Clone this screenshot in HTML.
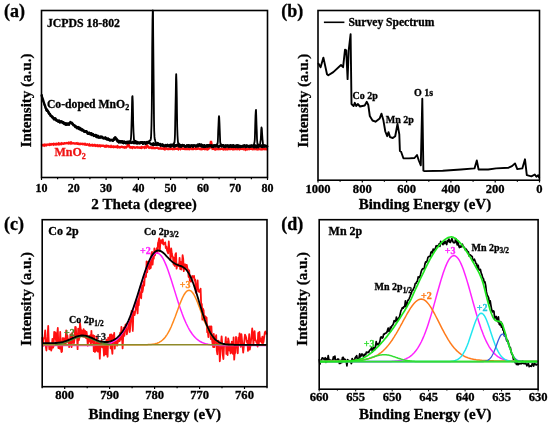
<!DOCTYPE html>
<html><head><meta charset="utf-8"><style>
html,body{margin:0;padding:0;background:#fff;width:550px;height:427px;overflow:hidden}
svg{display:block;filter:blur(0.35px)}
text{font-family:"Liberation Serif", serif;font-weight:bold;stroke-width:0.3px}
</style></head><body>
<svg width="550" height="427" viewBox="0 0 550 427">
<rect width="550" height="427" fill="#fff"/>
<path d="M41.5 145.7 L42 145.1 L42.5 145 L43 145.4 L43.5 144.9 L44 144.7 L44.5 145.4 L45 144.9 L45.5 145.2 L46 144.8 L46.5 145.2 L47 144.8 L47.5 144.5 L48 144.4 L48.5 144.7 L49 144.8 L49.5 144.9 L50 144.2 L50.5 144.6 L51 144.4 L51.5 144.5 L52 144.1 L52.5 144.2 L53 144.3 L53.5 144.6 L54 143.9 L54.5 144.2 L55 144.4 L55.5 144.5 L56 143.8 L56.5 143.7 L57 144.4 L57.5 144.3 L58 143.9 L58.5 143.5 L59 144.2 L59.5 143.7 L60 144.1 L60.5 143.8 L61 144 L61.5 143.4 L62 143.8 L62.5 143.4 L63 143.5 L63.5 143.8 L64 143.7 L64.5 143.2 L65 143.2 L65.5 143.3 L66 143.3 L66.5 143.2 L67 142.9 L67.5 143 L68 143.3 L68.5 143.4 L69 142.7 L69.5 143.1 L70 143.2 L70.5 142.7 L71 143.4 L71.5 142.8 L72 143.3 L72.5 143.3 L73 143.4 L73.5 143.2 L74 143.3 L74.5 143.5 L75 143.4 L75.5 143.6 L76 143.5 L76.5 143.6 L77 143.3 L77.5 143.8 L78 143.7 L78.5 143.6 L79 144.1 L79.5 144.1 L80 143.9 L80.5 143.7 L81 144 L81.5 143.8 L82 143.8 L82.5 144.1 L83 143.9 L83.5 144.2 L84 144.3 L84.5 144 L85 144.5 L85.5 144.1 L86 144.7 L86.5 144.8 L87 144.6 L87.5 144.3 L88 144.7 L88.5 144.7 L89 145.2 L89.5 144.6 L90 145.2 L90.5 145.4 L91 145.2 L91.5 145.3 L92 144.9 L92.5 145.5 L93 145.2 L93.5 145.6 L94 145.6 L94.5 145.1 L95 145.6 L95.5 145.8 L96 145.2 L96.5 145.4 L97 145.8 L97.5 145.4 L98 146 L98.5 145.6 L99 146 L99.5 145.5 L100 145.8 L100.5 146.2 L101 145.6 L101.5 145.7 L102 145.9 L102.5 145.8 L103 145.6 L103.5 145.8 L104 145.8 L104.5 146.4 L105 146.3 L105.5 146.5 L106 145.9 L106.5 146.4 L107 145.9 L107.5 146.3 L108 146.4 L108.5 146.2 L109 146.7 L109.5 146.4 L110 146.5 L110.5 146.8 L111 146.2 L111.5 146.9 L112 146.7 L112.5 146.5 L113 146.9 L113.5 146.5 L114 147.1 L114.5 146.8 L115 146.6 L115.5 147 L116 146.8 L116.5 146.6 L117 147.1 L117.5 146.5 L118 147.2 L118.5 146.8 L119 147.1 L119.5 147.4 L120 147.1 L120.5 147.2 L121 147 L121.5 146.7 L122 146.8 L122.5 146.9 L123 147.3 L123.5 147.2 L124 147.3 L124.5 147.6 L125 147.1 L125.5 147.2 L126 147.5 L126.5 147 L127 146.7 L127.5 145.9 L128 144.1 L128.5 144.1 L129 145.5 L129.5 147.1 L130 147.5 L130.5 147.3 L131 147.6 L131.5 147.5 L132 147.2 L132.5 147.8 L133 147.3 L133.5 147.2 L134 147.2 L134.5 147.6 L135 147.8 L135.5 147.7 L136 147.4 L136.5 147.3 L137 147.1 L137.5 147.6 L138 147.5 L138.5 147.4 L139 147.6 L139.5 147.5 L140 147.8 L140.5 147.7 L141 147.3 L141.5 147.8 L142 147.1 L142.5 147.5 L143 147.4 L143.5 147.3 L144 147.1 L144.5 147.7 L145 147.1 L145.5 147.5 L146 147.6 L146.5 146.2 L147 145.4 L147.5 145.8 L148 146.7 L148.5 147.5 L149 147.8 L149.5 147.4 L150 147.5 L150.5 147.6 L151 147.4 L151.5 148.1 L152 148 L152.5 148 L153 147.5 L153.5 148.2 L154 148.2 L154.5 148 L155 148.2 L155.5 148 L156 147.9 L156.5 147.8 L157 147.9 L157.5 147.8 L158 148.1 L158.5 148.5 L159 148.5 L159.5 148.6 L160 148.5 L160.5 148.2 L161 148.5 L161.5 148.4 L162 148.7 L162.5 148.6 L163 148.4 L163.5 148.7 L164 149 L164.5 148.4 L165 149 L165.5 148.3 L166 148.5 L166.5 148.5 L167 148.9 L167.5 149.1 L168 148.9 L168.5 148.6 L169 149 L169.5 148.6 L170 148.5 L170.5 149 L171 148.8 L171.5 148.9 L172 148.9 L172.5 149.1 L173 148.7 L173.5 149 L174 148.9 L174.5 149 L175 148.7 L175.5 148.9 L176 148.8 L176.5 148.6 L177 148.5 L177.5 148.8 L178 148.4 L178.5 149.1 L179 148.5 L179.5 148.4 L180 148.4 L180.5 149.1 L181 148.6 L181.5 148.5 L182 148.4 L182.5 148.4 L183 148.9 L183.5 148.9 L184 148.9 L184.5 149 L185 148.4 L185.5 148.9 L186 148.7 L186.5 149 L187 149 L187.5 149.1 L188 148.4 L188.5 149.1 L189 149.1 L189.5 149.2 L190 148.5 L190.5 148.6 L191 148.5 L191.5 148.4 L192 149.1 L192.5 149.1 L193 148.9 L193.5 149.1 L194 148.9 L194.5 148.6 L195 148.5 L195.5 148.5 L196 149 L196.5 148.6 L197 148.7 L197.5 148.8 L198 148.4 L198.5 148.6 L199 148.7 L199.5 149 L200 148.7 L200.5 148.7 L201 149.2 L201.5 148.8 L202 149.1 L202.5 148.9 L203 148.5 L203.5 148.8 L204 148.8 L204.5 149.1 L205 148.7 L205.5 149 L206 148.9 L206.5 148.6 L207 149.2 L207.5 148.5 L208 149.1 L208.5 148.6 L209 148.4 L209.5 148.3 L210 147.2 L210.5 144 L211 141 L211.5 143.6 L212 147 L212.5 148.8 L213 148.6 L213.5 148.9 L214 148.8 L214.5 149.2 L215 148.7 L215.5 149.3 L216 148.7 L216.5 148.7 L217 149.1 L217.5 148.9 L218 148.6 L218.5 149 L219 148.6 L219.5 149.1 L220 149.1 L220.5 149.1 L221 149 L221.5 148.8 L222 148.8 L222.5 148.8 L223 149.2 L223.5 148.6 L224 149.2 L224.5 148.6 L225 148.7 L225.5 148.7 L226 149.3 L226.5 148.9 L227 148.8 L227.5 149.2 L228 148.7 L228.5 148.9 L229 149 L229.5 149.2 L230 149.2 L230.5 149.1 L231 148.8 L231.5 148.8 L232 148.7 L232.5 149.2 L233 149.1 L233.5 149.2 L234 148.7 L234.5 148.9 L235 149.2 L235.5 149 L236 148.7 L236.5 148.9 L237 149.3 L237.5 148.8 L238 148.7 L238.5 148.8 L239 149.1 L239.5 149.3 L240 148.7 L240.5 148.7 L241 148.8 L241.5 148.9 L242 149 L242.5 148.7 L243 148.9 L243.5 148.8 L244 149.4 L244.5 149.2 L245 148.7 L245.5 149.4 L246 148.7 L246.5 148.9 L247 149.4 L247.5 149.3 L248 149.2 L248.5 149 L249 148.8 L249.5 149.1 L250 148.7 L250.5 148.8 L251 148.9 L251.5 148.7 L252 149 L252.5 149.3 L253 149.2 L253.5 149 L254 149.2 L254.5 149 L255 148.8 L255.5 149.1 L256 149 L256.5 149.2 L257 149.4 L257.5 149 L258 149.1 L258.5 149.3 L259 149 L259.5 148.8 L260 149.2 L260.5 149.4 L261 149.3 L261.5 149.2 L262 149.4 L262.5 149.2 L263 149.2 L263.5 149 L264 148.9 L264.5 149.2 L265 148.8 L265.5 149 L266 149.3 L266.5 149.3 L267 149.2 L267.5 148.9" fill="none" stroke="#ff1010" stroke-width="2.3"/>
<path d="M41.5 94.6 L42 97 L42.5 98.6 L43 99.5 L43.5 101.3 L44 102.9 L44.5 104.8 L45 105.4 L45.5 107.6 L46 108.7 L46.5 110.4 L47 110.9 L47.5 110.3 L48 111.4 L48.5 111.9 L49 113.6 L49.5 114.2 L50 114 L50.5 115.8 L51 115.5 L51.5 116.2 L52 117.3 L52.5 116.7 L53 117.7 L53.5 118.5 L54 119.4 L54.5 118.7 L55 118.4 L55.5 118.5 L56 120.2 L56.5 120.7 L57 120.6 L57.5 120.7 L58 121.5 L58.5 121 L59 120.5 L59.5 121.9 L60 122.4 L60.5 121.7 L61 121.2 L61.5 121.6 L62 121.6 L62.5 121.9 L63 122.6 L63.5 122.2 L64 123.3 L64.5 124 L65 123.1 L65.5 123.5 L66 124.9 L66.5 123.5 L67 123.7 L67.5 124.6 L68 123.4 L68.5 124 L69 124.7 L69.5 123.3 L70 123 L70.5 123.1 L71 123.1 L71.5 122.6 L72 122.8 L72.5 123.5 L73 124.5 L73.5 125.3 L74 125 L74.5 125.5 L75 125.6 L75.5 127 L76 126.5 L76.5 127 L77 128.1 L77.5 127.6 L78 127 L78.5 127.8 L79 129 L79.5 127.6 L80 128.9 L80.5 129.2 L81 129.4 L81.5 130.3 L82 129.4 L82.5 129.4 L83 130.4 L83.5 130.3 L84 131.5 L84.5 131.8 L85 132 L85.5 131.1 L86 131.6 L86.5 131.2 L87 131.9 L87.5 133.5 L88 133.7 L88.5 133.9 L89 132.6 L89.5 132.8 L90 133.8 L90.5 134.4 L91 134.2 L91.5 133.3 L92 135.1 L92.5 135 L93 134.1 L93.5 134.6 L94 136 L94.5 135.1 L95 135.9 L95.5 134.9 L96 136.7 L96.5 135.3 L97 137.2 L97.5 136.1 L98 135.9 L98.5 137.6 L99 136.9 L99.5 136.8 L100 137.7 L100.5 136.6 L101 136.7 L101.5 136.8 L102 136.7 L102.5 137.3 L103 137.9 L103.5 137.8 L104 138.1 L104.5 138.3 L105 138.3 L105.5 137.5 L106 138 L106.5 139.3 L107 138.6 L107.5 139.3 L108 138.5 L108.5 138.9 L109 140 L109.5 139.7 L110 140.5 L110.5 140 L111 139.9 L111.5 139.8 L112 139.9 L112.5 140.4 L113 140.7 L113.5 139.6 L114 139.8 L114.5 137.9 L115 137.5 L115.5 137.5 L116 139.2 L116.5 138.6 L117 140.3 L117.5 141.4 L118 140.5 L118.5 141.1 L119 142.5 L119.5 141 L120 141.9 L120.5 141.3 L121 142.5 L121.5 142.3 L122 141.3 L122.5 142.6 L123 141.6 L123.5 143.1 L124 141.8 L124.5 141.7 L125 142.2 L125.5 142.5 L126 143.3 L126.5 142 L127 142.9 L127.5 142 L128 143.2 L128.5 142 L129 143.1 L129.5 142.1 L130 142 L130.5 142.8 L131 143 L131.5 142.4 L132 142.9 L132.5 142 L133 141.9 L133.5 142.4 L134 143.3 L134.5 142.7 L135 142.4 L135.5 142.2 L136 143.2 L136.5 142.1 L137 143.6 L137.5 143.4 L138 142.8 L138.5 142.6 L139 143.2 L139.5 142.6 L140 143.3 L140.5 142.7 L141 142.1 L141.5 142.1 L142 142.5 L142.5 142.2 L143 143.8 L143.5 142.6 L144 142.7 L144.5 142.4 L145 142.7 L145.5 144.1 L146 142.7 L146.5 142.9 L147 142.3 L147.5 143.3 L148 142.9 L148.5 142.5 L149 142.8 L149.5 142.7 L150 143.3 L150.5 143.9 L151 144.3 L151.5 144.3 L152 143.7 L152.5 145 L153 144.5 L153.5 143.2 L154 145 L154.5 144.7 L155 143.6 L155.5 144.4 L156 145 L156.5 144.7 L157 144.9 L157.5 144.1 L158 144 L158.5 144 L159 145 L159.5 145.2 L160 145 L160.5 145.7 L161 145.2 L161.5 145.6 L162 145.8 L162.5 144.6 L163 145.9 L163.5 146 L164 145.6 L164.5 145.7 L165 146.3 L165.5 146.1 L166 145.1 L166.5 146.3 L167 145.9 L167.5 144.9 L168 146.2 L168.5 146.2 L169 145.9 L169.5 145.8 L170 146.6 L170.5 146.8 L171 144.9 L171.5 146.5 L172 145.7 L172.5 145.3 L173 145.3 L173.5 145.1 L174 146.8 L174.5 146.5 L175 146.6 L175.5 145.3 L176 145.8 L176.5 144.9 L177 145.8 L177.5 145.2 L178 145.5 L178.5 144.9 L179 146.6 L179.5 146.7 L180 146.7 L180.5 145.6 L181 146.9 L181.5 145.6 L182 145.4 L182.5 145.1 L183 145.5 L183.5 145.4 L184 145.9 L184.5 145.7 L185 146.7 L185.5 146.2 L186 146.8 L186.5 146.4 L187 146.4 L187.5 146.4 L188 145.5 L188.5 146.8 L189 145.9 L189.5 145.5 L190 146.9 L190.5 146.3 L191 146.1 L191.5 145.3 L192 145.4 L192.5 146 L193 146.8 L193.5 145.9 L194 145.4 L194.5 145.7 L195 145.5 L195.5 146.1 L196 146.5 L196.5 145.7 L197 145.6 L197.5 144.8 L198 146.4 L198.5 145.2 L199 145.6 L199.5 144.3 L200 144.7 L200.5 146 L201 146.1 L201.5 144.7 L202 146.6 L202.5 146.1 L203 145.8 L203.5 146.7 L204 147 L204.5 145.2 L205 146.1 L205.5 146.9 L206 146.3 L206.5 146 L207 145.1 L207.5 145.5 L208 146.3 L208.5 145.3 L209 146.3 L209.5 145.3 L210 146.1 L210.5 145.8 L211 146.3 L211.5 145.7 L212 147 L212.5 146.8 L213 145.5 L213.5 147 L214 145.7 L214.5 146.1 L215 145.9 L215.5 146.4 L216 145.6 L216.5 145.8 L217 146.5 L217.5 146.7 L218 146.1 L218.5 147.1 L219 146.8 L219.5 145.6 L220 145.7 L220.5 146.1 L221 145.6 L221.5 146.5 L222 145.4 L222.5 145.6 L223 145.4 L223.5 145.3 L224 146.9 L224.5 146.6 L225 147 L225.5 145.5 L226 146.6 L226.5 146.5 L227 145.9 L227.5 145.5 L228 145.7 L228.5 147.1 L229 147.1 L229.5 145.9 L230 146.8 L230.5 145.3 L231 145.9 L231.5 145.6 L232 147 L232.5 146 L233 146.7 L233.5 145.3 L234 147 L234.5 146.7 L235 145.9 L235.5 147.1 L236 145.7 L236.5 145.8 L237 145.2 L237.5 147.1 L238 147.1 L238.5 145.7 L239 147.1 L239.5 146 L240 146.1 L240.5 147.1 L241 146.8 L241.5 146.9 L242 146.5 L242.5 145.9 L243 146.8 L243.5 145.7 L244 145.8 L244.5 145.3 L245 145.9 L245.5 147 L246 145.8 L246.5 145.5 L247 146.7 L247.5 145.7 L248 146.5 L248.5 146.8 L249 146.6 L249.5 147 L250 146.4 L250.5 146.8 L251 145.8 L251.5 145.6 L252 146.5 L252.5 146.1 L253 146.3 L253.5 146.9 L254 147.3 L254.5 146.3 L255 147 L255.5 145.4 L256 145.6 L256.5 147.3 L257 147.2 L257.5 147.1 L258 145.9 L258.5 147.2 L259 146.5 L259.5 145.8 L260 145.6 L260.5 145.9 L261 146.7 L261.5 145.4 L262 146.7 L262.5 146 L263 147 L263.5 145.5 L264 146.2 L264.5 146.7 L265 145.7 L265.5 146.2 L266 146 L266.5 146 L267 146.1 L267.5 147.1" fill="none" stroke="#000" stroke-width="2.3" stroke-linejoin="round"/>
<path d="M41.5 94.6 L41.8 95.1 L42 97 L42.2 96.7 L42.5 98.6 L42.8 99.2 L43 99.5 L43.2 101.3 L43.5 101.3 L43.8 103 L44 102.9 L44.2 103.5 L44.5 104.8 L44.8 106.2 L45 105.4 L45.2 106.2 L45.5 107.6 L45.8 108.8 L46 108.7 L46.2 108.9 L46.5 110.4 L46.8 108.9 L47 110.9 L47.2 110.2 L47.5 110.3 L47.8 110.6 L48 111.4 L48.2 112.8 L48.5 111.9 L48.8 113.1 L49 113.6 L49.2 113.4 L49.5 114.2 L49.8 113.6 L50 114 L50.2 114.6 L50.5 115.8 L50.8 115.5 L51 115.5 L51.2 116.3 L51.5 116.2 L51.8 116.1 L52 117.3 L52.2 117.4 L52.5 116.7 L52.8 117.5 L53 117.7 L53.2 118.6 L53.5 118.5 L53.8 117.8 L54 119.4 L54.2 117.9 L54.5 118.7 L54.8 119.5 L55 118.4 L55.2 119.2 L55.5 118.5 L55.8 119.9 L56 120.2 L56.2 120 L56.5 120.7 L56.8 119.7 L57 120.6 L57.2 120.6 L57.5 120.7 L57.8 120.6 L58 121.5 L58.2 121.8 L58.5 121 L58.8 121.5 L59 120.5 L59.2 121.9 L59.5 121.9 L59.8 122.6 L60 122.4 L60.2 121.4 L60.5 121.7 L60.8 122.4 L61 121.2 L61.2 122.1 L61.5 121.6 L61.8 121.6 L62 121.6 L62.2 123.1 L62.5 121.9 L62.8 122.3 L63 122.6 L63.2 123.7 L63.5 122.2 L63.8 123 L64 123.3 L64.2 124.1 L64.5 124 L64.8 124.2 L65 123.1 L65.2 123.5 L65.5 123.5 L65.8 124.6 L66 124.9 L66.2 123.3 L66.5 123.5 L66.8 123.7 L67 123.7 L67.2 124.3 L67.5 124.6 L67.8 123.9 L68 123.4 L68.2 124.2 L68.5 123.9 L68.8 124.2 L69 124.7 L69.2 123.9 L69.5 123.2 L69.8 123.2 L70 123 L70.2 121.6 L70.5 123.1 L70.8 122.9 L71 123.1 L71.2 123.2 L71.5 122.6 L71.8 123 L72 122.8 L72.2 124.3 L72.5 123.5 L72.8 123.9 L73 124.5 L73.2 124.6 L73.5 125.3 L73.8 124.9 L74 125 L74.2 125.5 L74.5 125.5 L74.8 126.2 L75 125.6 L75.2 127.4 L75.5 127 L75.8 126.2 L76 126.5 L76.2 126.8 L76.5 126.9 L76.8 126.6 L77 128.1 L77.2 128.5 L77.5 127.6 L77.8 127.7 L78 127 L78.2 127.2 L78.5 127.8 L78.8 127.7 L79 128.9 L79.2 127.7 L79.5 127.6 L79.8 129.6 L80 128.9 L80.2 128.2 L80.5 129.1 L80.8 128.2 L81 129.4 L81.2 130.4 L81.5 130.3 L81.8 130.1 L82 129.3 L82.2 129.7 L82.5 129.4 L82.8 130.8 L83 130.4 L83.2 131 L83.5 130.3 L83.8 130.2 L84 131.5 L84.2 131.9 L84.5 131.8 L84.8 131.8 L85 132 L85.2 132 L85.5 131.1 L85.8 131.8 L86 131.6 L86.2 131.1 L86.5 131.2 L86.8 131.8 L87 131.9 L87.2 132.9 L87.5 133.5 L87.8 132.6 L88 133.7 L88.2 133.9 L88.5 133.9 L88.8 132.8 L89 132.6 L89.2 132.7 L89.5 132.8 L89.8 132.9 L90 133.8 L90.2 134.4 L90.5 134.4 L90.8 133.8 L91 134.2 L91.2 134.6 L91.5 133.3 L91.8 134.5 L92 135.1 L92.2 135 L92.5 135 L92.8 134.5 L93 134 L93.2 135.4 L93.5 134.5 L93.8 135.6 L94 136 L94.2 135 L94.5 135.1 L94.8 136.2 L95 135.9 L95.2 134.9 L95.5 134.9 L95.8 135 L96 136.6 L96.2 136.5 L96.5 135.3 L96.8 136.8 L97 137.2 L97.2 136.6 L97.5 136.1 L97.8 136.6 L98 135.8 L98.2 135.7 L98.5 137.6 L98.8 137 L99 136.8 L99.2 137.7 L99.5 136.8 L99.8 137.7 L100 137.6 L100.2 136.5 L100.5 136.6 L100.8 136.7 L101 136.7 L101.2 137.4 L101.5 136.8 L101.8 137.2 L102 136.7 L102.2 138.4 L102.5 137.3 L102.8 137.6 L103 137.9 L103.2 138.6 L103.5 137.8 L103.8 138.8 L104 138.1 L104.2 138.2 L104.5 138.3 L104.8 137.3 L105 138.2 L105.2 137.8 L105.5 137.5 L105.8 139.2 L106 138 L106.2 138.7 L106.5 139.3 L106.8 139 L107 138.6 L107.2 139.1 L107.5 139.2 L107.8 139.8 L108 138.4 L108.2 139.4 L108.5 138.8 L108.8 138.9 L109 140 L109.2 139.5 L109.5 139.7 L109.8 140.1 L110 140.5 L110.2 139.6 L110.5 140 L110.8 139.8 L111 139.9 L111.2 140.3 L111.5 139.8 L111.8 140 L112 139.9 L112.2 140.8 L112.5 140.3 L112.8 140.6 L113 140.7 L113.2 139.2 L113.5 139.6 L113.8 140.2 L114 139.7 L114.2 138.1 L114.5 137.8 L114.8 138.3 L115 137.4 L115.2 137.7 L115.5 137.4 L115.8 138.7 L116 139.2 L116.2 139.7 L116.5 138.5 L116.8 140 L117 140.2 L117.2 139.5 L117.5 141.3 L117.8 141.7 L118 140.4 L118.2 142 L118.5 141.1 L118.8 141.4 L119 142.5 L119.2 142.2 L119.5 140.9 L119.8 141.5 L120 141.8 L120.2 141.5 L120.5 141.2 L120.8 141.5 L121 142.4 L121.2 141.1 L121.5 142.2 L121.8 142 L122 141.2 L122.2 141.9 L122.5 142.5 L122.8 142.4 L123 141.5 L123.2 143.4 L123.5 143 L123.8 143.4 L124 141.6 L124.2 142 L124.5 141.5 L124.8 143 L125 142 L125.2 141.7 L125.5 142.3 L125.8 143.3 L126 143.1 L126.2 142 L126.5 141.8 L126.8 143.3 L127 142.6 L127.2 142.8 L127.5 141.6 L127.8 141.5 L128 142.8 L128.2 142.2 L128.5 141.5 L128.8 143.1 L129 142.5 L129.2 142.7 L129.5 141.2 L129.8 142.6 L130 140.8 L130.2 142.2 L130.5 140.9 L130.8 139.6 L131 137.8 L131.2 134.2 L131.5 125.5 L131.8 115 L132 105 L132.2 97.1 L132.5 96.1 L132.8 102.4 L133 112.5 L133.2 123.4 L133.5 131.7 L133.8 136.6 L134 140 L134.2 140.2 L134.5 141.2 L134.8 140.8 L135 141.3 L135.2 140.8 L135.5 141.4 L135.8 141 L136 142.5 L136.2 142.2 L136.5 141.6 L136.8 142.2 L137 143.2 L137.2 141.6 L137.5 143 L137.8 142.3 L138 142.4 L138.2 143.1 L138.5 142.3 L138.8 142.5 L139 142.9 L139.2 143.5 L139.5 142.3 L139.8 143.3 L140 143 L140.2 142.9 L140.5 142.5 L140.8 142.4 L141 141.8 L141.2 141.9 L141.5 141.8 L141.8 143.2 L142 142.2 L142.2 142 L142.5 141.9 L142.8 143.4 L143 143.5 L143.2 143.1 L143.5 142.3 L143.8 142.2 L144 142.3 L144.2 142.6 L144.5 142 L144.8 142.6 L145 142.2 L145.2 143.6 L145.5 143.6 L145.8 142.8 L146 142.1 L146.2 143.6 L146.5 142.2 L146.8 142.3 L147 141.6 L147.2 142.3 L147.5 142.5 L147.8 142.5 L148 141.8 L148.2 142.4 L148.5 141.3 L148.8 141.7 L149 141.2 L149.2 141.6 L149.5 140.7 L149.8 140.4 L150 140.7 L150.2 140.1 L150.5 140.2 L150.8 139.2 L151 137.7 L151.2 133.4 L151.5 124.8 L151.8 108.5 L152 81.4 L152.2 48.8 L152.5 20.4 L152.8 10.5 L153 11.6 L153.2 36.6 L153.5 68.3 L153.8 99.3 L154 119.9 L154.2 131 L154.5 136.9 L154.8 139.6 L155 139.5 L155.2 141.1 L155.5 141.6 L155.8 142.6 L156 142.9 L156.2 143.3 L156.5 143 L156.8 143.8 L157 143.6 L157.2 143.8 L157.5 143 L157.8 142.7 L158 143.1 L158.2 143.6 L158.5 143.2 L158.8 144.8 L159 144.3 L159.2 144.5 L159.5 144.6 L159.8 144.8 L160 144.5 L160.2 143.6 L160.5 145.2 L160.8 145.2 L161 144.8 L161.2 144.9 L161.5 145.2 L161.8 144.1 L162 145.4 L162.2 144.5 L162.5 144.2 L162.8 144.7 L163 145.6 L163.2 144.6 L163.5 145.7 L163.8 146.3 L164 145.3 L164.2 145.2 L164.5 145.4 L164.8 145.9 L165 146.1 L165.2 145.8 L165.5 145.8 L165.8 144.7 L166 144.8 L166.2 145.1 L166.5 146 L166.8 145.2 L167 145.7 L167.2 144.6 L167.5 144.7 L167.8 145.1 L168 145.9 L168.2 145.9 L168.5 145.9 L168.8 145.1 L169 145.5 L169.2 145.4 L169.5 145.4 L169.8 144.7 L170 146.2 L170.2 144.8 L170.5 146.3 L170.8 146.2 L171 144.4 L171.2 145.2 L171.5 145.9 L171.8 146.1 L172 145 L172.2 144.6 L172.5 144.4 L172.8 145.7 L173 144.1 L173.2 144.7 L173.5 143.7 L173.8 144.2 L174 144.7 L174.2 142.4 L174.5 142.5 L174.8 139 L175 133.9 L175.2 123.1 L175.5 107.3 L175.8 92 L176 78.4 L176.2 74.1 L176.5 81.7 L176.8 97.7 L177 114.1 L177.2 127.1 L177.5 135.2 L177.8 140.1 L178 142.1 L178.2 144.2 L178.5 143 L178.8 144.8 L179 145.2 L179.2 143.9 L179.5 145.7 L179.8 145.4 L180 145.9 L180.2 144.7 L180.5 145 L180.8 145.1 L181 146.4 L181.2 145.6 L181.5 145.2 L181.8 145.3 L182 145.1 L182.2 144.6 L182.5 144.8 L182.8 146.3 L183 145.2 L183.2 146.5 L183.5 145.1 L183.8 145.2 L184 145.7 L184.2 145.1 L184.5 145.5 L184.8 146.6 L185 146.5 L185.2 146.4 L185.5 146 L185.8 146.6 L186 146.6 L186.2 145.9 L186.5 146.2 L186.8 144.9 L187 146.3 L187.2 145.7 L187.5 146.3 L187.8 146.1 L188 145.4 L188.2 144.9 L188.5 146.7 L188.8 145.1 L189 145.8 L189.2 145.5 L189.5 145.4 L189.8 146.3 L190 146.8 L190.2 145.4 L190.5 146.2 L190.8 145.5 L191 146 L191.2 145.7 L191.5 145.2 L191.8 145.2 L192 145.3 L192.2 146.7 L192.5 145.9 L192.8 145.3 L193 146.7 L193.2 146.9 L193.5 145.8 L193.8 145.2 L194 145.3 L194.2 145.1 L194.5 145.6 L194.8 145.1 L195 145.4 L195.2 145.4 L195.5 146 L195.8 146.7 L196 146.4 L196.2 145.7 L196.5 145.7 L196.8 145.9 L197 145.5 L197.2 145.4 L197.5 144.7 L197.8 145.1 L198 146.3 L198.2 144.5 L198.5 145.1 L198.8 145.2 L199 145.6 L199.2 144.2 L199.5 144.3 L199.8 144.3 L200 144.6 L200.2 144.8 L200.5 145.9 L200.8 145.8 L201 146 L201.2 144.5 L201.5 144.6 L201.8 146.1 L202 146.5 L202.2 145.8 L202.5 146 L202.8 144.9 L203 145.7 L203.2 146.8 L203.5 146.6 L203.8 146.7 L204 146.9 L204.2 145.5 L204.5 145.2 L204.8 145.3 L205 146 L205.2 146.3 L205.5 146.9 L205.8 146.4 L206 146.3 L206.2 146.5 L206.5 145.9 L206.8 146.1 L207 145.1 L207.2 146.5 L207.5 145.4 L207.8 146.8 L208 146.3 L208.2 145.6 L208.5 145.2 L208.8 145.5 L209 146.3 L209.2 146.4 L209.5 145.2 L209.8 145.1 L210 146 L210.2 146.1 L210.5 145.7 L210.8 145.4 L211 146.2 L211.2 145 L211.5 145.6 L211.8 145.9 L212 146.9 L212.2 146.2 L212.5 146.7 L212.8 145.9 L213 145.4 L213.2 145.4 L213.5 146.8 L213.8 146.3 L214 145.5 L214.2 144.9 L214.5 145.8 L214.8 146.1 L215 145.6 L215.2 145.2 L215.5 146 L215.8 146.5 L216 145 L216.2 144.6 L216.5 145.1 L216.8 145.1 L217 145.4 L217.2 143.9 L217.5 144.1 L217.8 141.7 L218 137.2 L218.2 130.6 L218.5 124.9 L218.8 117.6 L219 116.2 L219.2 117.4 L219.5 123.5 L219.8 131.7 L220 136.8 L220.2 142.2 L220.5 143.5 L220.8 143.9 L221 144.5 L221.2 145.1 L221.5 145.8 L221.8 146.4 L222 144.9 L222.2 145.5 L222.5 145.2 L222.8 146.7 L223 145.1 L223.2 145 L223.5 145 L223.8 145.7 L224 146.7 L224.2 146.7 L224.5 146.4 L224.8 147 L225 146.9 L225.2 145.7 L225.5 145.4 L225.8 146.9 L226 146.5 L226.2 145.1 L226.5 146.4 L226.8 145.8 L227 145.8 L227.2 145.7 L227.5 145.4 L227.8 145.1 L228 145.6 L228.2 145.8 L228.5 147 L228.8 145.3 L229 147 L229.2 145.5 L229.5 145.8 L229.8 146.8 L230 146.8 L230.2 146 L230.5 145.2 L230.8 146.1 L231 145.9 L231.2 147 L231.5 145.5 L231.8 145.9 L232 146.9 L232.2 145.2 L232.5 146 L232.8 146.8 L233 146.7 L233.2 145.2 L233.5 145.2 L233.8 145.3 L234 147 L234.2 145.7 L234.5 146.7 L234.8 147 L235 145.8 L235.2 145.7 L235.5 147.1 L235.8 146.4 L236 145.7 L236.2 146.6 L236.5 145.8 L236.8 145.7 L237 145.2 L237.2 146.7 L237.5 147 L237.8 146.4 L238 147.1 L238.2 145.2 L238.5 145.6 L238.8 146.1 L239 147.1 L239.2 147.1 L239.5 146 L239.8 145.7 L240 146 L240.2 146.2 L240.5 147 L240.8 145.6 L241 146.8 L241.2 146.7 L241.5 146.8 L241.8 146.7 L242 146.4 L242.2 145.8 L242.5 145.8 L242.8 145.9 L243 146.8 L243.2 145.4 L243.5 145.6 L243.8 146.7 L244 145.7 L244.2 145.3 L244.5 145.3 L244.8 146.3 L245 145.8 L245.2 147.1 L245.5 147 L245.8 147.2 L246 145.7 L246.2 145.3 L246.5 145.4 L246.8 146.2 L247 146.6 L247.2 146.1 L247.5 145.6 L247.8 146 L248 146.4 L248.2 146.5 L248.5 146.6 L248.8 146.8 L249 146.5 L249.2 145.4 L249.5 146.8 L249.8 145.7 L250 146.2 L250.2 145.8 L250.5 146.5 L250.8 145.4 L251 145.5 L251.2 145.5 L251.5 145.3 L251.8 146.7 L252 146 L252.2 145.5 L252.5 145.6 L252.8 146.7 L253 145.6 L253.2 145 L253.5 146 L253.8 145.5 L254 145.8 L254.2 143.2 L254.5 142.3 L254.8 139.6 L255 133.9 L255.2 126.1 L255.5 116.1 L255.8 110.9 L256 109.9 L256.2 114.9 L256.5 124.5 L256.8 131.9 L257 138.8 L257.2 141.5 L257.5 144.4 L257.8 144.5 L258 144.5 L258.2 145.7 L258.5 146.2 L258.8 144.6 L259 145.6 L259.2 145.6 L259.5 144.8 L259.8 144.9 L260 144.1 L260.2 143.2 L260.5 141.5 L260.8 139.1 L261 135.1 L261.2 130.2 L261.5 127.4 L261.8 128.4 L262 131.9 L262.2 135.1 L262.5 139.3 L262.8 142 L263 144.9 L263.2 145.2 L263.5 144.7 L263.8 144.9 L264 145.6 L264.2 146 L264.5 146.3 L264.8 145.2 L265 145.4 L265.2 146.5 L265.5 145.9 L265.8 145.7 L266 145.8 L266.2 147.1 L266.5 145.8 L266.8 146.4 L267 146 L267.2 146.1 L267.5 147" fill="none" stroke="#000" stroke-width="1.8" stroke-linejoin="round"/>
<rect x="41.5" y="10.5" width="226.0" height="167.0" fill="none" stroke="#000" stroke-width="1.6"/>
<path d="M41.5 177.5 v2.6 M57.6 177.5 v1.8 M73.8 177.5 v2.6 M89.9 177.5 v1.8 M106.1 177.5 v2.6 M122.2 177.5 v1.8 M138.4 177.5 v2.6 M154.5 177.5 v1.8 M170.6 177.5 v2.6 M186.8 177.5 v1.8 M202.9 177.5 v2.6 M219.1 177.5 v1.8 M235.2 177.5 v2.6 M251.4 177.5 v1.8 M267.5 177.5 v2.6" stroke="#000" stroke-width="1.2"/>
<text x="41.5" y="192.3" font-size="12" fill="#000" stroke="#000" text-anchor="middle" >10</text>
<text x="73.8" y="192.3" font-size="12" fill="#000" stroke="#000" text-anchor="middle" >20</text>
<text x="106.1" y="192.3" font-size="12" fill="#000" stroke="#000" text-anchor="middle" >30</text>
<text x="138.4" y="192.3" font-size="12" fill="#000" stroke="#000" text-anchor="middle" >40</text>
<text x="170.6" y="192.3" font-size="12" fill="#000" stroke="#000" text-anchor="middle" >50</text>
<text x="202.9" y="192.3" font-size="12" fill="#000" stroke="#000" text-anchor="middle" >60</text>
<text x="235.2" y="192.3" font-size="12" fill="#000" stroke="#000" text-anchor="middle" >70</text>
<text x="267.5" y="192.3" font-size="12" fill="#000" stroke="#000" text-anchor="middle" >80</text>
<text x="91.3" y="209" font-size="15.15" fill="#000" stroke="#000" text-anchor="start" >2 Theta (degree)</text>
<text x="31.1" y="147.3" font-size="15" fill="#000" stroke="#000" text-anchor="start" transform="rotate(-90 31.1 147.3)">Intensity (a.u.)</text>
<text x="4" y="17" font-size="18" fill="#000" stroke="#000" text-anchor="start" >(a)</text>
<text x="46.9" y="26.8" font-size="11.8" fill="#000" stroke="#000" text-anchor="start" >JCPDS 18-802</text>
<text x="46.9" y="107.5" font-size="11.7" fill="#000" stroke="#000" text-anchor="start" >Co-doped MnO<tspan font-size="8" dy="2.6">2</tspan></text>
<text x="54.5" y="156.3" font-size="12" fill="#f01414" stroke="#f01414" text-anchor="start" >MnO<tspan font-size="8" dy="3">2</tspan></text>
<path d="M318.1 62.9 L320.6 67.2 L323.4 57.6 L327 74.2 L328.3 75.3 L333.3 72.1 L341 65 L343.1 67.2 L345 49.6 L346.2 50.3 L347.6 79.1 L348.7 50.3 L350.6 34.1 L351.5 104 L352.5 105 L353.6 106 L354.8 102.8 L356.3 106 L357.8 104 L360 106.5 L364.7 105.5 L366.8 101.8 L368.3 105 L369.8 116 L372.5 120.5 L375.5 121.7 L379.7 118.4 L381.5 113.7 L383.4 120.3 L385.3 131.5 L387.2 136.2 L388.5 132.1 L390 137.1 L392.8 138 L395.2 136.2 L397.5 124 L399.3 134.3 L399.9 151 L401.1 151.7 L403.4 158.2 L409 158.4 L414.5 158 L417 155 L418.8 160.5 L420.8 165.3 L422.3 98.7 L423.4 170.7 L424.5 171.1 L442.7 170.7 L460.9 169.5 L474.5 168.4 L476.8 160.5 L478.6 169.5 L488.2 169.5 L496.1 168.4 L508.6 167.7 L512 166.1 L515 163.4 L517.3 169.1 L522.3 168.4 L525 159.3 L526.8 175.2 L531.4 176.4 L534.8 174.5 L536.4 176.8 L538.2 175.2 L539.3 178" fill="none" stroke="#000" stroke-width="1.9" stroke-linejoin="round"/>
<rect x="318" y="10.5" width="221.5" height="169.7" fill="none" stroke="#000" stroke-width="1.6"/>
<path d="M539.5 180.2 v2.2 M517.4 180.2 v1.6 M495.2 180.2 v2.2 M473.1 180.2 v1.6 M450.9 180.2 v2.2 M428.8 180.2 v1.6 M406.6 180.2 v2.2 M384.4 180.2 v1.6 M362.3 180.2 v2.2 M340.1 180.2 v1.6 M318 180.2 v2.2" stroke="#000" stroke-width="1.2"/>
<text x="539.5" y="192.5" font-size="12.6" fill="#000" stroke="#000" text-anchor="middle" >0</text>
<text x="495.2" y="192.5" font-size="12.6" fill="#000" stroke="#000" text-anchor="middle" >200</text>
<text x="450.9" y="192.5" font-size="12.6" fill="#000" stroke="#000" text-anchor="middle" >400</text>
<text x="406.6" y="192.5" font-size="12.6" fill="#000" stroke="#000" text-anchor="middle" >600</text>
<text x="362.3" y="192.5" font-size="12.6" fill="#000" stroke="#000" text-anchor="middle" >800</text>
<text x="318" y="192.5" font-size="12.6" fill="#000" stroke="#000" text-anchor="middle" >1000</text>
<text x="358.7" y="209" font-size="15" fill="#000" stroke="#000" text-anchor="start" >Binding Energy (eV)</text>
<text x="307.7" y="147.5" font-size="15" fill="#000" stroke="#000" text-anchor="start" transform="rotate(-90 307.7 147.5)">Intensity (a.u.)</text>
<text x="281.3" y="17" font-size="18" fill="#000" stroke="#000" text-anchor="start" >(b)</text>
<path d="M323.9 22.3 H344.4" stroke="#000" stroke-width="1.6"/>
<text x="348.4" y="25.5" font-size="11.6" fill="#000" stroke="#000" text-anchor="start" >Survey Spectrum</text>
<text x="352.5" y="98.7" font-size="10" fill="#000" stroke="#000" text-anchor="start" >Co 2p</text>
<text x="385.8" y="122.7" font-size="10" fill="#000" stroke="#000" text-anchor="start" >Mn 2p</text>
<text x="414" y="95.8" font-size="10" fill="#000" stroke="#000" text-anchor="start" >O 1s</text>
<path d="M42.2 337.3 L42.8 346.1 L43.4 338.5 L44 338.6 L44.6 336.5 L45.2 330.3 L45.8 346.1 L46.4 350.5 L47 343.4 L47.6 336.4 L48.2 326 L48.8 343.1 L49.4 349.3 L50 343.7 L50.6 347.4 L51.2 350.6 L51.8 348.3 L52.4 338.8 L53 347.7 L53.6 345.9 L54.2 331.9 L54.8 338.6 L55.4 332.4 L56 340.1 L56.6 344.1 L57.2 334.1 L57.8 328 L58.4 348 L59 342.3 L59.6 348.7 L60.2 331.8 L60.8 346 L61.4 352 L62 351.5 L62.6 338.1 L63.2 340.9 L63.8 338.2 L64.4 345 L65 345.1 L65.6 339.2 L66.2 330.4 L66.8 342.8 L67.4 335.3 L68 341.7 L68.6 339.3 L69.2 347.2 L69.8 344.1 L70.4 334.3 L71 338.9 L71.6 347.1 L72.2 333 L72.8 338.6 L73.4 342.9 L74 343 L74.6 338.3 L75.2 327 L75.8 327.1 L76.4 335.9 L77 336.5 L77.6 349.2 L78.2 328.6 L78.8 340.3 L79.4 337.9 L80 323.1 L80.6 328.3 L81.2 334.3 L81.8 330.5 L82.4 332.7 L83 336.6 L83.6 329.1 L84.2 337 L84.8 330.6 L85.4 331.4 L86 338.2 L86.6 331.8 L87.2 337.3 L87.8 345.6 L88.4 336.5 L89 335.9 L89.6 341.6 L90.2 335.4 L90.8 344.5 L91.4 330.8 L92 342.7 L92.6 336.4 L93.2 335.2 L93.8 351.1 L94.4 335.9 L95 352 L95.6 345.7 L96.2 350.8 L96.8 336.5 L97.4 349.9 L98 351.7 L98.6 342.6 L99.2 342.8 L99.8 358.6 L100.4 345.1 L101 341.8 L101.6 340.8 L102.2 347.4 L102.8 346.9 L103.4 346.2 L104 355.6 L104.6 343.4 L105.2 348.4 L105.8 354.4 L106.4 339.7 L107 352 L107.6 356.8 L108.2 337.7 L108.8 339.3 L109.4 339.6 L110 334.7 L110.6 348.4 L111.2 334.4 L111.8 348.3 L112.4 353.8 L113 335.2 L113.6 342.7 L114.2 332.8 L114.8 348.7 L115.4 339.2 L116 341.7 L116.6 343.2 L117.2 345.7 L117.8 339.9 L118.4 341.6 L119 337.7 L119.6 341.1 L120.2 332.7 L120.8 339.5 L121.4 326.8 L122 334.8 L122.6 348.4 L123.2 336.6 L123.8 327.7 L124.4 335.9 L125 327.6 L125.6 324.3 L126.2 328 L126.8 334.4 L127.4 331.7 L128 328.2 L128.6 323 L129.2 321.1 L129.8 332 L130.4 325.2 L131 318 L131.6 310.8 L132.2 313.1 L132.8 330.9 L133.4 311.3 L134 315.1 L134.6 315 L135.2 311.5 L135.8 309.1 L136.4 301.8 L137 301.5 L137.6 313.4 L138.2 299.2 L138.8 305.3 L139.4 290.6 L140 295.8 L140.6 296.5 L141.2 298.3 L141.8 285.5 L142.4 292.1 L143 289.1 L143.6 281.5 L144.2 285.6 L144.8 276.8 L145.4 275.2 L146 277 L146.6 261.4 L147.2 272.3 L147.8 265.9 L148.4 261.6 L149 264.9 L149.6 269 L150.2 261.4 L150.8 268 L151.4 254.2 L152 251.9 L152.6 264.6 L153.2 257.3 L153.8 258.6 L154.4 248.4 L155 255.3 L155.6 251.4 L156.2 252.3 L156.8 248.2 L157.4 253.2 L158 243.1 L158.6 241.2 L159.2 238.3 L159.8 251.3 L160.4 241.7 L161 240.1 L161.6 240.7 L162.2 243.3 L162.8 239.3 L163.4 244.5 L164 243.1 L164.6 243.9 L165.2 242.4 L165.8 248.2 L166.4 246.5 L167 250.3 L167.6 251.9 L168.2 253.3 L168.8 241.5 L169.4 250.7 L170 250.4 L170.6 259.2 L171.2 248.3 L171.8 253.5 L172.4 256.5 L173 257.1 L173.6 264.6 L174.2 258.2 L174.8 266 L175.4 254.4 L176 253.1 L176.6 268.6 L177.2 265.1 L177.8 265.6 L178.4 264.1 L179 266.2 L179.6 257.9 L180.2 269 L180.8 261.8 L181.4 269.6 L182 265.3 L182.6 255.2 L183.2 258.9 L183.8 271.2 L184.4 265.2 L185 264.3 L185.6 267.8 L186.2 264.9 L186.8 264.8 L187.4 268.6 L188 269.5 L188.6 277 L189.2 270.5 L189.8 280.5 L190.4 281.1 L191 281.7 L191.6 279.5 L192.2 276 L192.8 277.4 L193.4 277.3 L194 275.9 L194.6 280.7 L195.2 279.5 L195.8 292.6 L196.4 288.8 L197 285.7 L197.6 280.3 L198.2 291.5 L198.8 291.7 L199.4 290.3 L200 292.1 L200.6 288.7 L201.2 305.1 L201.8 304.1 L202.4 319.6 L203 308.7 L203.6 310.3 L204.2 320.4 L204.8 316 L205.4 318.3 L206 317.1 L206.6 317.7 L207.2 332.2 L207.8 331.1 L208.4 337.1 L209 326.4 L209.6 330.4 L210.2 326.5 L210.8 339 L211.4 326.3 L212 339.4 L212.6 343.9 L213.2 347 L213.8 334 L214.4 347.2 L215 337.4 L215.6 337.9 L216.2 335.2 L216.8 350.7 L217.4 354.3 L218 341.3 L218.6 340.8 L219.2 343.8 L219.8 361.3 L220.4 352.6 L221 343.6 L221.6 336.4 L222.2 343.4 L222.8 354.8 L223.4 359 L224 346.4 L224.6 344 L225.2 345.2 L225.8 337.1 L226.4 353.9 L227 342 L227.6 355 L228.2 338.4 L228.8 341.1 L229.4 350.5 L230 344.2 L230.6 353.4 L231.2 348.8 L231.8 341.7 L232.4 352.5 L233 353.8 L233.6 337.3 L234.2 359.7 L234.8 351.7 L235.4 353 L236 336.9 L236.6 343.3 L237.2 345.1 L237.8 353.3 L238.4 337.6 L239 340.7 L239.6 333.4 L240.2 343.7 L240.8 346.8 L241.4 334.2 L242 340.3 L242.6 346.5 L243.2 352.6 L243.8 346.6 L244.4 340.4 L245 334.7 L245.6 336 L246.2 337.5 L246.8 342.2 L247.4 340.8 L248 350.9 L248.6 342.5 L249.2 334.2 L249.8 349.7 L250.4 346 L251 340.7 L251.6 335.6 L252.2 328.5 L252.8 333.4 L253.4 344.9 L254 334.4 L254.6 331.1 L255.2 340.1 L255.8 340.2 L256.4 342.2 L257 342.3 L257.6 346.7 L258.2 333 L258.8 343.7 L259.4 331.8 L260 341.7 L260.6 338.4 L261.2 338.6 L261.8 342.8 L262.4 336.7 L263 343.3 L263.6 341.7 L264.2 337.1 L264.8 332.7 L265.4 331.5 L266 332.6 L266.6 334.6" fill="none" stroke="#ff1010" stroke-width="1.8" stroke-linejoin="round"/>
<path d="M42.2 345.5 L43.2 345.5 L44.2 345.5 L45.2 345.5 L46.2 345.5 L47.2 345.5 L48.2 345.5 L49.2 345.5 L50.2 345.5 L51.2 345.5 L52.2 345.5 L53.2 345.5 L54.2 345.5 L55.2 345.5 L56.2 345.5 L57.2 345.5 L58.2 345.5 L59.2 345.5 L60.2 345.5 L61.2 345.5 L62.2 345.5 L63.2 345.5 L64.2 345.5 L65.2 345.5 L66.2 345.5 L67.2 345.5 L68.2 345.5 L69.2 345.5 L70.2 345.5 L71.2 345.5 L72.2 345.5 L73.2 345.5 L74.2 345.5 L75.2 345.5 L76.2 345.5 L77.2 345.5 L78.2 345.5 L79.2 345.5 L80.2 345.5 L81.2 345.5 L82.2 345.5 L83.2 345.5 L84.2 345.5 L85.2 345.5 L86.2 345.5 L87.2 345.5 L88.2 345.5 L89.2 345.5 L90.2 345.4 L91.2 345.4 L92.2 345.4 L93.2 345.4 L94.2 345.4 L95.2 345.3 L96.2 345.3 L97.2 345.3 L98.2 345.2 L99.2 345.1 L100.2 345.1 L101.2 345 L102.2 344.9 L103.2 344.8 L104.2 344.6 L105.2 344.4 L106.2 344.2 L107.2 344 L108.2 343.7 L109.2 343.4 L110.2 343.1 L111.2 342.7 L112.2 342.2 L113.2 341.7 L114.2 341.1 L115.2 340.4 L116.2 339.7 L117.2 338.9 L118.2 337.9 L119.2 336.9 L120.2 335.8 L121.2 334.5 L122.2 333.1 L123.2 331.6 L124.2 330 L125.2 328.2 L126.2 326.3 L127.2 324.3 L128.2 322.1 L129.2 319.8 L130.2 317.4 L131.2 314.8 L132.2 312.1 L133.2 309.3 L134.2 306.4 L135.2 303.4 L136.2 300.3 L137.2 297.1 L138.2 293.9 L139.2 290.7 L140.2 287.5 L141.2 284.2 L142.2 281 L143.2 277.9 L144.2 274.8 L145.2 271.9 L146.2 269.1 L147.2 266.5 L148.2 264 L149.2 261.7 L150.2 259.7 L151.2 257.9 L152.2 256.4 L153.2 255.1 L154.2 254.1 L155.2 253.4 L156.2 253.1 L157.2 253 L158.2 253.3 L159.2 253.8 L160.2 254.7 L161.2 255.8 L162.2 257.2 L163.2 258.9 L164.2 260.9 L165.2 263.1 L166.2 265.4 L167.2 268 L168.2 270.8 L169.2 273.7 L170.2 276.7 L171.2 279.8 L172.2 282.9 L173.2 286.2 L174.2 289.4 L175.2 292.6 L176.2 295.9 L177.2 299 L178.2 302.2 L179.2 305.2 L180.2 308.2 L181.2 311 L182.2 313.8 L183.2 316.4 L184.2 318.9 L185.2 321.2 L186.2 323.5 L187.2 325.5 L188.2 327.5 L189.2 329.3 L190.2 331 L191.2 332.5 L192.2 334 L193.2 335.3 L194.2 336.4 L195.2 337.5 L196.2 338.5 L197.2 339.4 L198.2 340.1 L199.2 340.8 L200.2 341.5 L201.2 342 L202.2 342.5 L203.2 342.9 L204.2 343.3 L205.2 343.6 L206.2 343.9 L207.2 344.1 L208.2 344.4 L209.2 344.5 L210.2 344.7 L211.2 344.8 L212.2 344.9 L213.2 345 L214.2 345.1 L215.2 345.2 L216.2 345.2 L217.2 345.3 L218.2 345.3 L219.2 345.4 L220.2 345.4 L221.2 345.4 L222.2 345.4 L223.2 345.4 L224.2 345.5 L225.2 345.5 L226.2 345.5 L227.2 345.5 L228.2 345.5 L229.2 345.5 L230.2 345.5 L231.2 345.5 L232.2 345.5 L233.2 345.5 L234.2 345.5 L235.2 345.5 L236.2 345.5 L237.2 345.5 L238.2 345.5 L239.2 345.5 L240.2 345.5 L241.2 345.5 L242.2 345.5 L243.2 345.5 L244.2 345.5 L245.2 345.5 L246.2 345.5 L247.2 345.5 L248.2 345.5 L249.2 345.5 L250.2 345.5 L251.2 345.5 L252.2 345.5 L253.2 345.5 L254.2 345.5 L255.2 345.5 L256.2 345.5 L257.2 345.5 L258.2 345.5 L259.2 345.5 L260.2 345.5 L261.2 345.5 L262.2 345.5 L263.2 345.5 L264.2 345.5 L265.2 345.5 L266.2 345.5" fill="none" stroke="#ff22ff" stroke-width="1.5"/>
<path d="M42.2 344.8 L43.2 344.8 L44.2 344.8 L45.2 344.8 L46.2 344.8 L47.2 344.8 L48.2 344.8 L49.2 344.8 L50.2 344.8 L51.2 344.8 L52.2 344.8 L53.2 344.8 L54.2 344.8 L55.2 344.8 L56.2 344.8 L57.2 344.8 L58.2 344.8 L59.2 344.8 L60.2 344.8 L61.2 344.8 L62.2 344.8 L63.2 344.8 L64.2 344.8 L65.2 344.8 L66.2 344.8 L67.2 344.8 L68.2 344.8 L69.2 344.8 L70.2 344.8 L71.2 344.8 L72.2 344.8 L73.2 344.8 L74.2 344.8 L75.2 344.8 L76.2 344.8 L77.2 344.8 L78.2 344.8 L79.2 344.8 L80.2 344.8 L81.2 344.8 L82.2 344.8 L83.2 344.8 L84.2 344.8 L85.2 344.8 L86.2 344.8 L87.2 344.8 L88.2 344.8 L89.2 344.8 L90.2 344.8 L91.2 344.8 L92.2 344.8 L93.2 344.8 L94.2 344.8 L95.2 344.8 L96.2 344.8 L97.2 344.8 L98.2 344.8 L99.2 344.8 L100.2 344.8 L101.2 344.8 L102.2 344.8 L103.2 344.8 L104.2 344.8 L105.2 344.8 L106.2 344.8 L107.2 344.8 L108.2 344.8 L109.2 344.8 L110.2 344.8 L111.2 344.8 L112.2 344.8 L113.2 344.8 L114.2 344.8 L115.2 344.8 L116.2 344.8 L117.2 344.8 L118.2 344.8 L119.2 344.8 L120.2 344.8 L121.2 344.8 L122.2 344.8 L123.2 344.8 L124.2 344.8 L125.2 344.8 L126.2 344.8 L127.2 344.8 L128.2 344.8 L129.2 344.8 L130.2 344.8 L131.2 344.8 L132.2 344.8 L133.2 344.8 L134.2 344.8 L135.2 344.8 L136.2 344.8 L137.2 344.8 L138.2 344.8 L139.2 344.8 L140.2 344.8 L141.2 344.8 L142.2 344.8 L143.2 344.8 L144.2 344.7 L145.2 344.7 L146.2 344.7 L147.2 344.7 L148.2 344.6 L149.2 344.6 L150.2 344.5 L151.2 344.4 L152.2 344.3 L153.2 344.2 L154.2 344 L155.2 343.8 L156.2 343.5 L157.2 343.2 L158.2 342.8 L159.2 342.3 L160.2 341.7 L161.2 341.1 L162.2 340.3 L163.2 339.4 L164.2 338.4 L165.2 337.2 L166.2 335.8 L167.2 334.3 L168.2 332.7 L169.2 330.8 L170.2 328.8 L171.2 326.7 L172.2 324.3 L173.2 321.9 L174.2 319.3 L175.2 316.7 L176.2 313.9 L177.2 311.2 L178.2 308.4 L179.2 305.8 L180.2 303.1 L181.2 300.7 L182.2 298.4 L183.2 296.3 L184.2 294.5 L185.2 293 L186.2 291.8 L187.2 290.9 L188.2 290.4 L189.2 290.3 L190.2 290.6 L191.2 291.2 L192.2 292.2 L193.2 293.5 L194.2 295.2 L195.2 297.1 L196.2 299.3 L197.2 301.6 L198.2 304.2 L199.2 306.8 L200.2 309.5 L201.2 312.3 L202.2 315 L203.2 317.7 L204.2 320.4 L205.2 322.9 L206.2 325.3 L207.2 327.5 L208.2 329.6 L209.2 331.6 L210.2 333.4 L211.2 335 L212.2 336.4 L213.2 337.7 L214.2 338.8 L215.2 339.8 L216.2 340.6 L217.2 341.4 L218.2 342 L219.2 342.5 L220.2 342.9 L221.2 343.3 L222.2 343.6 L223.2 343.9 L224.2 344.1 L225.2 344.2 L226.2 344.4 L227.2 344.5 L228.2 344.5 L229.2 344.6 L230.2 344.6 L231.2 344.7 L232.2 344.7 L233.2 344.7 L234.2 344.8 L235.2 344.8 L236.2 344.8 L237.2 344.8 L238.2 344.8 L239.2 344.8 L240.2 344.8 L241.2 344.8 L242.2 344.8 L243.2 344.8 L244.2 344.8 L245.2 344.8 L246.2 344.8 L247.2 344.8 L248.2 344.8 L249.2 344.8 L250.2 344.8 L251.2 344.8 L252.2 344.8 L253.2 344.8 L254.2 344.8 L255.2 344.8 L256.2 344.8 L257.2 344.8 L258.2 344.8 L259.2 344.8 L260.2 344.8 L261.2 344.8 L262.2 344.8 L263.2 344.8 L264.2 344.8 L265.2 344.8 L266.2 344.8" fill="none" stroke="#ff8a1e" stroke-width="1.5"/>
<path d="M42.2 344.8 H267.0" stroke="#8f8a2a" stroke-width="1.6"/>
<path d="M55.2 344.4 L56.2 344.3 L57.2 344.2 L58.2 344.1 L59.2 344 L60.2 343.8 L61.2 343.6 L62.2 343.3 L63.2 343.1 L64.2 342.8 L65.2 342.5 L66.2 342.1 L67.2 341.7 L68.2 341.3 L69.2 340.9 L70.2 340.4 L71.2 340 L72.2 339.5 L73.2 339.1 L74.2 338.6 L75.2 338.2 L76.2 337.8 L77.2 337.5 L78.2 337.2 L79.2 336.9 L80.2 336.7 L81.2 336.6 L82.2 336.5 L83.2 336.5 L84.2 336.6 L85.2 336.7 L86.2 336.9 L87.2 337.2 L88.2 337.5 L89.2 337.8 L90.2 338.2 L91.2 338.6 L92.2 339.1 L93.2 339.5 L94.2 340 L95.2 340.4 L96.2 340.9 L97.2 341.3 L98.2 341.7 L99.2 342.1 L100.2 342.5 L101.2 342.8 L102.2 343.1 L103.2 343.3 L104.2 343.6 L105.2 343.8 L106.2 344 L107.2 344.1 L108.2 344.2 L109.2 344.3 L110.2 344.4" fill="none" stroke="#4f8a2f" stroke-width="1.5"/>
<path d="M42.2 343.2 L43.2 343.2 L44.2 343.2 L45.2 343.2 L46.2 343.2 L47.2 343.2 L48.2 343.2 L49.2 343.2 L50.2 343.2 L51.2 343.2 L52.2 343.2 L53.2 343.1 L54.2 343.1 L55.2 343 L56.2 343 L57.2 342.9 L58.2 342.7 L59.2 342.6 L60.2 342.4 L61.2 342.3 L62.2 342 L63.2 341.8 L64.2 341.5 L65.2 341.2 L66.2 340.9 L67.2 340.5 L68.2 340.1 L69.2 339.7 L70.2 339.3 L71.2 338.8 L72.2 338.4 L73.2 337.9 L74.2 337.5 L75.2 337.1 L76.2 336.7 L77.2 336.4 L78.2 336.1 L79.2 335.8 L80.2 335.7 L81.2 335.5 L82.2 335.5 L83.2 335.5 L84.2 335.6 L85.2 335.7 L86.2 335.9 L87.2 336.2 L88.2 336.5 L89.2 336.9 L90.2 337.3 L91.2 337.7 L92.2 338.1 L93.2 338.6 L94.2 339 L95.2 339.5 L96.2 339.9 L97.2 340.3 L98.2 340.6 L99.2 341 L100.2 341.3 L101.2 341.5 L102.2 341.7 L103.2 341.9 L104.2 342 L105.2 342 L106.2 342 L107.2 342 L108.2 341.8 L109.2 341.7 L110.2 341.4 L111.2 341.1 L112.2 340.7 L113.2 340.3 L114.2 339.7 L115.2 339.1 L116.2 338.4 L117.2 337.6 L118.2 336.7 L119.2 335.7 L120.2 334.6 L121.2 333.3 L122.2 332 L123.2 330.5 L124.2 328.9 L125.2 327.1 L126.2 325.3 L127.2 323.2 L128.2 321.1 L129.2 318.8 L130.2 316.4 L131.2 313.8 L132.2 311.1 L133.2 308.3 L134.2 305.4 L135.2 302.4 L136.2 299.4 L137.2 296.2 L138.2 293 L139.2 289.8 L140.2 286.6 L141.2 283.3 L142.2 280.2 L143.2 277 L144.2 274 L145.2 271 L146.2 268.2 L147.2 265.6 L148.2 263.1 L149.2 260.8 L150.2 258.7 L151.2 256.8 L152.2 255.2 L153.2 253.8 L154.2 252.6 L155.2 251.7 L156.2 251.1 L157.2 250.7 L158.2 250.5 L159.2 250.6 L160.2 250.9 L161.2 251.4 L162.2 252 L163.2 252.8 L164.2 253.7 L165.2 254.7 L166.2 255.8 L167.2 256.9 L168.2 257.9 L169.2 259 L170.2 260 L171.2 260.9 L172.2 261.8 L173.2 262.6 L174.2 263.2 L175.2 263.8 L176.2 264.3 L177.2 264.7 L178.2 265.1 L179.2 265.5 L180.2 265.8 L181.2 266.2 L182.2 266.6 L183.2 267.2 L184.2 267.9 L185.2 268.7 L186.2 269.7 L187.2 271 L188.2 272.4 L189.2 274.1 L190.2 276.1 L191.2 278.2 L192.2 280.7 L193.2 283.3 L194.2 286.1 L195.2 289.1 L196.2 292.3 L197.2 295.5 L198.2 298.8 L199.2 302.2 L200.2 305.5 L201.2 308.8 L202.2 312 L203.2 315.2 L204.2 318.2 L205.2 321 L206.2 323.7 L207.2 326.2 L208.2 328.5 L209.2 330.6 L210.2 332.6 L211.2 334.3 L212.2 335.8 L213.2 337.2 L214.2 338.4 L215.2 339.5 L216.2 340.4 L217.2 341.1 L218.2 341.8 L219.2 342.4 L220.2 342.8 L221.2 343.2 L222.2 343.5 L223.2 343.8 L224.2 344 L225.2 344.2 L226.2 344.3 L227.2 344.4 L228.2 344.5 L229.2 344.6 L230.2 344.6 L231.2 344.7 L232.2 344.7 L233.2 344.7 L234.2 344.8 L235.2 344.8 L236.2 344.8 L237.2 344.8 L238.2 344.8 L239.2 344.8 L240.2 344.8 L241.2 344.8 L242.2 344.8 L243.2 344.8 L244.2 344.8 L245.2 344.8 L246.2 344.8 L247.2 344.8 L248.2 344.8 L249.2 344.8 L250.2 344.8 L251.2 344.8 L252.2 344.8 L253.2 344.8 L254.2 344.8 L255.2 344.8 L256.2 344.8 L257.2 344.8 L258.2 344.8 L259.2 344.8 L260.2 344.8 L261.2 344.8 L262.2 344.8 L263.2 344.8 L264.2 344.8 L265.2 344.8 L266.2 344.8" fill="none" stroke="#000" stroke-width="1.8"/>
<rect x="42.2" y="219.7" width="224.8" height="167.0" fill="none" stroke="#000" stroke-width="1.6"/>
<path d="M267 386.7 v1.6 M244.5 386.7 v2.2 M222 386.7 v1.6 M199.6 386.7 v2.2 M177.1 386.7 v1.6 M154.6 386.7 v2.2 M132.1 386.7 v1.6 M109.6 386.7 v2.2 M87.2 386.7 v1.6 M64.7 386.7 v2.2 M42.2 386.7 v1.6" stroke="#000" stroke-width="1.2"/>
<text x="244.5" y="399.2" font-size="12.6" fill="#000" stroke="#000" text-anchor="middle" >760</text>
<text x="199.6" y="399.2" font-size="12.6" fill="#000" stroke="#000" text-anchor="middle" >770</text>
<text x="154.6" y="399.2" font-size="12.6" fill="#000" stroke="#000" text-anchor="middle" >780</text>
<text x="109.6" y="399.2" font-size="12.6" fill="#000" stroke="#000" text-anchor="middle" >790</text>
<text x="64.7" y="399.2" font-size="12.6" fill="#000" stroke="#000" text-anchor="middle" >800</text>
<text x="88.4" y="419" font-size="15" fill="#000" stroke="#000" text-anchor="start" >Binding Energy (eV)</text>
<text x="30.9" y="345.7" font-size="15" fill="#000" stroke="#000" text-anchor="start" transform="rotate(-90 30.9 345.7)">Intensity (a.u.)</text>
<text x="4" y="230" font-size="18" fill="#000" stroke="#000" text-anchor="start" >(c)</text>
<text x="48.3" y="235.3" font-size="12" fill="#000" stroke="#000" text-anchor="start" >Co 2p</text>
<text x="144.1" y="234.7" font-size="10" fill="#000" stroke="#000" text-anchor="start" >Co 2p<tspan font-size="7.3" dy="2.2">3/2</tspan></text>
<text x="69" y="323.3" font-size="10" fill="#000" stroke="#000" text-anchor="start" >Co 2p<tspan font-size="7.3" dy="2.2">1/2</tspan></text>
<text x="140" y="254" font-size="10" fill="#ff22ff" stroke="#ff22ff" text-anchor="start" >+2</text>
<text x="179.8" y="288" font-size="10" fill="#ff8a1e" stroke="#ff8a1e" text-anchor="start" >+3</text>
<text x="64" y="335.6" font-size="10" fill="#4f8a2f" stroke="#4f8a2f" text-anchor="start" >+2</text>
<text x="95.3" y="340" font-size="10" fill="#1a1a1a" stroke="#1a1a1a" text-anchor="start" >+3</text>
<path d="M319.2 359.1 L319.9 364.2 L320.7 360.3 L321.4 360.6 L322.2 357.8 L322.9 358.1 L323.7 358.9 L324.4 359.8 L325.2 357.7 L325.9 362.3 L326.7 358.6 L327.4 361.5 L328.2 355.7 L328.9 359.7 L329.7 360.3 L330.4 360.2 L331.2 360.9 L331.9 360.4 L332.7 360.3 L333.4 356.8 L334.2 358.9 L334.9 356.1 L335.7 361.2 L336.4 360.7 L337.2 359.9 L337.9 358.9 L338.7 359.3 L339.4 363.5 L340.2 363.4 L340.9 360.3 L341.7 362.7 L342.4 357.8 L343.2 357.3 L343.9 359.8 L344.7 359.1 L345.4 359.7 L346.2 361 L346.9 365.8 L347.7 359.6 L348.4 360.8 L349.2 361.2 L349.9 360.6 L350.7 362.2 L351.4 363.6 L352.2 358.5 L352.9 360.8 L353.7 360 L354.4 361 L355.2 357.6 L355.9 356.9 L356.7 355.6 L357.4 360 L358.2 359.1 L358.9 358.4 L359.7 353.8 L360.4 356.8 L361.2 355.7 L361.9 354 L362.7 354.3 L363.4 356.5 L364.2 355.7 L364.9 354.1 L365.7 354.6 L366.4 352.1 L367.2 352.7 L367.9 352.1 L368.7 352.4 L369.4 350.7 L370.2 349.9 L370.9 349.2 L371.7 347.7 L372.4 351.8 L373.2 348.2 L373.9 347.3 L374.7 349.7 L375.4 347.4 L376.2 341.6 L376.9 344.6 L377.7 344 L378.4 345 L379.2 343.2 L379.9 341.4 L380.7 337.2 L381.4 336.9 L382.2 338 L382.9 337.5 L383.7 334 L384.4 334.2 L385.2 333.3 L385.9 333.1 L386.7 332.6 L387.4 330.6 L388.2 328 L388.9 331.3 L389.7 330.9 L390.4 327 L391.2 327.8 L391.9 325.8 L392.7 325.1 L393.4 323.7 L394.2 320.5 L394.9 321.7 L395.7 321.3 L396.4 317 L397.2 320.7 L397.9 319.8 L398.7 318.1 L399.4 317.2 L400.2 313.9 L400.9 310.9 L401.7 309.3 L402.4 307.7 L403.2 308.1 L403.9 306.6 L404.7 306.6 L405.4 300.8 L406.2 306.9 L406.9 305.5 L407.7 300.3 L408.4 300.2 L409.2 298.5 L409.9 296.8 L410.7 294.5 L411.4 293.1 L412.2 290.3 L412.9 290.3 L413.7 288.2 L414.4 287.2 L415.2 283.6 L415.9 283.5 L416.7 281.9 L417.4 281.2 L418.2 276.8 L418.9 277.7 L419.7 277.1 L420.4 274.9 L421.2 271.6 L421.9 269.8 L422.7 268.7 L423.4 268.8 L424.2 268.6 L424.9 264.1 L425.7 261.9 L426.4 262.2 L427.2 260.6 L427.9 257.5 L428.7 256.5 L429.4 256.4 L430.2 256.6 L430.9 252.3 L431.7 251.5 L432.4 253 L433.2 249 L433.9 250.3 L434.7 249.7 L435.4 248 L436.2 245.7 L436.9 246.7 L437.7 245.6 L438.4 246.2 L439.2 243.7 L439.9 246.4 L440.7 241.3 L441.4 243.4 L442.2 243.4 L442.9 244.7 L443.7 241.8 L444.4 243.5 L445.2 241.4 L445.9 243.1 L446.7 244.5 L447.4 240.5 L448.2 241.6 L448.9 239 L449.7 242.1 L450.4 242.4 L451.2 240.4 L451.9 238.6 L452.7 241.2 L453.4 242.6 L454.2 242.8 L454.9 242.6 L455.7 238.5 L456.4 240.8 L457.2 244.9 L457.9 241 L458.7 245.6 L459.4 247.5 L460.2 246.2 L460.9 247.2 L461.7 245.2 L462.4 244.2 L463.2 246.7 L463.9 247.1 L464.7 248 L465.4 250 L466.2 249.2 L466.9 250.5 L467.7 251.6 L468.4 251.8 L469.2 256.1 L469.9 254.8 L470.7 255.3 L471.4 256 L472.2 256.4 L472.9 261 L473.7 260.1 L474.4 259.2 L475.2 261.3 L475.9 263.3 L476.7 264 L477.4 267.8 L478.2 265.3 L478.9 269.4 L479.7 270.2 L480.4 269.4 L481.2 273.1 L481.9 274.6 L482.7 277.8 L483.4 278.5 L484.2 282.3 L484.9 281.8 L485.7 285.6 L486.4 291.7 L487.2 295.1 L487.9 296.2 L488.7 298.1 L489.4 303.7 L490.2 300.9 L490.9 305.4 L491.7 309.9 L492.4 311.9 L493.2 310.9 L493.9 311.2 L494.7 318.3 L495.4 317.2 L496.2 316.5 L496.9 319.2 L497.7 321.7 L498.4 316.8 L499.2 324.1 L499.9 324.8 L500.7 321.5 L501.4 327.2 L502.2 323.7 L502.9 330 L503.7 330.6 L504.4 336 L505.2 333.5 L505.9 336.9 L506.7 340.8 L507.4 340 L508.2 341.9 L508.9 344.7 L509.7 347.3 L510.4 347.7 L511.2 352.3 L511.9 354.3 L512.7 355.2 L513.5 359.7 L514.2 357.9 L515 362.6 L515.7 361 L516.5 364.5 L517.2 360.9 L518 364.7 L518.7 364.2 L519.5 363.6 L520.2 363.4 L521 363.9 L521.7 363.3 L522.5 360.8 L523.2 363.5 L524 363.6 L524.7 363.6 L525.5 362.7 L526.2 364.2 L527 365.8 L527.7 364 L528.5 363.6 L529.2 366.7 L530 366 L530.7 365.9 L531.5 366.3 L532.2 363.7 L533 364 L533.7 366.1 L534.5 363.3 L535.2 364 L536 364.8 L536.7 364.8 L537.5 363.6" fill="none" stroke="#000" stroke-width="1.7" stroke-linejoin="round"/>
<path d="M319.2 361.6 L320.2 361.6 L321.2 361.6 L322.2 361.6 L323.2 361.6 L324.2 361.6 L325.2 361.6 L326.2 361.6 L327.2 361.6 L328.2 361.6 L329.2 361.6 L330.2 361.6 L331.2 361.6 L332.2 361.6 L333.2 361.6 L334.2 361.6 L335.2 361.6 L336.2 361.6 L337.2 361.6 L338.2 361.6 L339.2 361.6 L340.2 361.6 L341.2 361.6 L342.2 361.6 L343.2 361.6 L344.2 361.6 L345.2 361.6 L346.2 361.6 L347.2 361.6 L348.2 361.6 L349.2 361.6 L350.2 361.6 L351.2 361.6 L352.2 361.6 L353.2 361.6 L354.2 361.6 L355.2 361.6 L356.2 361.6 L357.2 361.6 L358.2 361.6 L359.2 361.6 L360.2 361.6 L361.2 361.6 L362.2 361.6 L363.2 361.6 L364.2 361.6 L365.2 361.6 L366.2 361.6 L367.2 361.6 L368.2 361.6 L369.2 361.6 L370.2 361.6 L371.2 361.6 L372.2 361.6 L373.2 361.6 L374.2 361.6 L375.2 361.6 L376.2 361.6 L377.2 361.6 L378.2 361.6 L379.2 361.6 L380.2 361.6 L381.2 361.6 L382.2 361.6 L383.2 361.6 L384.2 361.6 L385.2 361.5 L386.2 361.5 L387.2 361.5 L388.2 361.5 L389.2 361.5 L390.2 361.4 L391.2 361.4 L392.2 361.3 L393.2 361.3 L394.2 361.2 L395.2 361.1 L396.2 361 L397.2 360.9 L398.2 360.8 L399.2 360.7 L400.2 360.5 L401.2 360.3 L402.2 360 L403.2 359.8 L404.2 359.5 L405.2 359.1 L406.2 358.7 L407.2 358.2 L408.2 357.7 L409.2 357.1 L410.2 356.4 L411.2 355.6 L412.2 354.8 L413.2 353.8 L414.2 352.8 L415.2 351.6 L416.2 350.3 L417.2 348.9 L418.2 347.4 L419.2 345.7 L420.2 343.9 L421.2 342 L422.2 339.9 L423.2 337.6 L424.2 335.3 L425.2 332.7 L426.2 330 L427.2 327.2 L428.2 324.2 L429.2 321.1 L430.2 317.9 L431.2 314.6 L432.2 311.2 L433.2 307.7 L434.2 304.1 L435.2 300.6 L436.2 296.9 L437.2 293.3 L438.2 289.8 L439.2 286.2 L440.2 282.8 L441.2 279.4 L442.2 276.2 L443.2 273.1 L444.2 270.2 L445.2 267.5 L446.2 265.1 L447.2 262.8 L448.2 260.9 L449.2 259.2 L450.2 257.9 L451.2 256.8 L452.2 256.1 L453.2 255.7 L454.2 255.6 L455.2 255.9 L456.2 256.5 L457.2 257.4 L458.2 258.6 L459.2 260.2 L460.2 262 L461.2 264.1 L462.2 266.5 L463.2 269.1 L464.2 271.9 L465.2 274.9 L466.2 278.1 L467.2 281.4 L468.2 284.8 L469.2 288.3 L470.2 291.9 L471.2 295.5 L472.2 299.1 L473.2 302.7 L474.2 306.3 L475.2 309.8 L476.2 313.2 L477.2 316.6 L478.2 319.9 L479.2 323 L480.2 326 L481.2 328.9 L482.2 331.6 L483.2 334.3 L484.2 336.7 L485.2 339 L486.2 341.2 L487.2 343.2 L488.2 345 L489.2 346.8 L490.2 348.3 L491.2 349.8 L492.2 351.1 L493.2 352.3 L494.2 353.4 L495.2 354.4 L496.2 355.3 L497.2 356.1 L498.2 356.8 L499.2 357.4 L500.2 358 L501.2 358.5 L502.2 358.9 L503.2 359.3 L504.2 359.6 L505.2 359.9 L506.2 360.2 L507.2 360.4 L508.2 360.6 L509.2 360.7 L510.2 360.9 L511.2 361 L512.2 361.1 L513.2 361.2 L514.2 361.3 L515.2 361.3 L516.2 361.4 L517.2 361.4 L518.2 361.4 L519.2 361.5 L520.2 361.5 L521.2 361.5 L522.2 361.5 L523.2 361.5 L524.2 361.6 L525.2 361.6 L526.2 361.6 L527.2 361.6 L528.2 361.6 L529.2 361.6 L530.2 361.6 L531.2 361.6 L532.2 361.6 L533.2 361.6 L534.2 361.6 L535.2 361.6 L536.2 361.6 L537.2 361.6" fill="none" stroke="#ff22ff" stroke-width="1.5"/>
<path d="M319.2 361.2 L320.2 361.2 L321.2 361.2 L322.2 361.2 L323.2 361.2 L324.2 361.2 L325.2 361.2 L326.2 361.2 L327.2 361.2 L328.2 361.1 L329.2 361.1 L330.2 361.1 L331.2 361.1 L332.2 361.1 L333.2 361.1 L334.2 361.1 L335.2 361.1 L336.2 361.1 L337.2 361 L338.2 361 L339.2 361 L340.2 361 L341.2 361 L342.2 361 L343.2 360.9 L344.2 360.9 L345.2 360.9 L346.2 360.9 L347.2 360.8 L348.2 360.8 L349.2 360.8 L350.2 360.8 L351.2 360.7 L352.2 360.7 L353.2 360.6 L354.2 360.6 L355.2 360.5 L356.2 360.5 L357.2 360.4 L358.2 360.3 L359.2 360.2 L360.2 360.1 L361.2 360 L362.2 359.9 L363.2 359.7 L364.2 359.6 L365.2 359.4 L366.2 359.2 L367.2 359 L368.2 358.8 L369.2 358.5 L370.2 358.2 L371.2 357.9 L372.2 357.5 L373.2 357.2 L374.2 356.7 L375.2 356.3 L376.2 355.8 L377.2 355.2 L378.2 354.6 L379.2 353.9 L380.2 353.2 L381.2 352.5 L382.2 351.6 L383.2 350.8 L384.2 349.8 L385.2 348.8 L386.2 347.7 L387.2 346.6 L388.2 345.4 L389.2 344.1 L390.2 342.8 L391.2 341.4 L392.2 340 L393.2 338.4 L394.2 336.9 L395.2 335.2 L396.2 333.6 L397.2 331.9 L398.2 330.1 L399.2 328.3 L400.2 326.5 L401.2 324.6 L402.2 322.8 L403.2 320.9 L404.2 319.1 L405.2 317.3 L406.2 315.5 L407.2 313.7 L408.2 312 L409.2 310.3 L410.2 308.7 L411.2 307.2 L412.2 305.8 L413.2 304.5 L414.2 303.3 L415.2 302.2 L416.2 301.3 L417.2 300.5 L418.2 299.9 L419.2 299.5 L420.2 299.2 L421.2 299.1 L422.2 299.2 L423.2 299.5 L424.2 299.9 L425.2 300.6 L426.2 301.4 L427.2 302.4 L428.2 303.6 L429.2 304.9 L430.2 306.3 L431.2 307.9 L432.2 309.6 L433.2 311.3 L434.2 313.1 L435.2 315 L436.2 317 L437.2 318.9 L438.2 320.9 L439.2 322.9 L440.2 324.9 L441.2 326.9 L442.2 328.8 L443.2 330.7 L444.2 332.6 L445.2 334.5 L446.2 336.2 L447.2 337.9 L448.2 339.6 L449.2 341.2 L450.2 342.7 L451.2 344.1 L452.2 345.5 L453.2 346.8 L454.2 348 L455.2 349.1 L456.2 350.1 L457.2 351.1 L458.2 352 L459.2 352.9 L460.2 353.7 L461.2 354.4 L462.2 355 L463.2 355.6 L464.2 356.2 L465.2 356.7 L466.2 357.1 L467.2 357.5 L468.2 357.9 L469.2 358.2 L470.2 358.5 L471.2 358.8 L472.2 359 L473.2 359.2 L474.2 359.4 L475.2 359.6 L476.2 359.8 L477.2 359.9 L478.2 360 L479.2 360.1 L480.2 360.2 L481.2 360.3 L482.2 360.4 L483.2 360.4 L484.2 360.5 L485.2 360.5 L486.2 360.6 L487.2 360.6 L488.2 360.7 L489.2 360.7 L490.2 360.8 L491.2 360.8 L492.2 360.8 L493.2 360.8 L494.2 360.9 L495.2 360.9 L496.2 360.9 L497.2 360.9 L498.2 360.9 L499.2 361 L500.2 361 L501.2 361 L502.2 361 L503.2 361 L504.2 361 L505.2 361 L506.2 361.1 L507.2 361.1 L508.2 361.1 L509.2 361.1 L510.2 361.1 L511.2 361.1 L512.2 361.1 L513.2 361.1 L514.2 361.1 L515.2 361.2 L516.2 361.2 L517.2 361.2 L518.2 361.2 L519.2 361.2 L520.2 361.2 L521.2 361.2 L522.2 361.2 L523.2 361.2 L524.2 361.2 L525.2 361.2 L526.2 361.2 L527.2 361.2 L528.2 361.3 L529.2 361.3 L530.2 361.3 L531.2 361.3 L532.2 361.3 L533.2 361.3 L534.2 361.3 L535.2 361.3 L536.2 361.3 L537.2 361.3" fill="none" stroke="#ff7a1a" stroke-width="1.5"/>
<path d="M319.2 361.6 L320.2 361.6 L321.2 361.6 L322.2 361.6 L323.2 361.6 L324.2 361.6 L325.2 361.6 L326.2 361.6 L327.2 361.6 L328.2 361.6 L329.2 361.6 L330.2 361.6 L331.2 361.6 L332.2 361.6 L333.2 361.6 L334.2 361.6 L335.2 361.6 L336.2 361.6 L337.2 361.6 L338.2 361.6 L339.2 361.6 L340.2 361.6 L341.2 361.6 L342.2 361.6 L343.2 361.6 L344.2 361.6 L345.2 361.6 L346.2 361.6 L347.2 361.6 L348.2 361.6 L349.2 361.6 L350.2 361.6 L351.2 361.6 L352.2 361.6 L353.2 361.6 L354.2 361.6 L355.2 361.6 L356.2 361.6 L357.2 361.6 L358.2 361.6 L359.2 361.6 L360.2 361.6 L361.2 361.6 L362.2 361.6 L363.2 361.6 L364.2 361.6 L365.2 361.6 L366.2 361.6 L367.2 361.6 L368.2 361.6 L369.2 361.6 L370.2 361.6 L371.2 361.6 L372.2 361.6 L373.2 361.6 L374.2 361.6 L375.2 361.6 L376.2 361.6 L377.2 361.6 L378.2 361.6 L379.2 361.6 L380.2 361.6 L381.2 361.6 L382.2 361.6 L383.2 361.6 L384.2 361.6 L385.2 361.6 L386.2 361.6 L387.2 361.6 L388.2 361.6 L389.2 361.6 L390.2 361.6 L391.2 361.6 L392.2 361.6 L393.2 361.6 L394.2 361.6 L395.2 361.6 L396.2 361.6 L397.2 361.6 L398.2 361.6 L399.2 361.6 L400.2 361.6 L401.2 361.6 L402.2 361.6 L403.2 361.6 L404.2 361.6 L405.2 361.6 L406.2 361.6 L407.2 361.6 L408.2 361.6 L409.2 361.6 L410.2 361.6 L411.2 361.6 L412.2 361.6 L413.2 361.6 L414.2 361.6 L415.2 361.6 L416.2 361.6 L417.2 361.6 L418.2 361.6 L419.2 361.6 L420.2 361.6 L421.2 361.6 L422.2 361.6 L423.2 361.6 L424.2 361.6 L425.2 361.6 L426.2 361.6 L427.2 361.6 L428.2 361.6 L429.2 361.6 L430.2 361.6 L431.2 361.6 L432.2 361.6 L433.2 361.6 L434.2 361.6 L435.2 361.6 L436.2 361.6 L437.2 361.6 L438.2 361.6 L439.2 361.6 L440.2 361.6 L441.2 361.6 L442.2 361.6 L443.2 361.6 L444.2 361.6 L445.2 361.6 L446.2 361.5 L447.2 361.5 L448.2 361.5 L449.2 361.4 L450.2 361.4 L451.2 361.3 L452.2 361.2 L453.2 361 L454.2 360.8 L455.2 360.5 L456.2 360.1 L457.2 359.7 L458.2 359.1 L459.2 358.4 L460.2 357.5 L461.2 356.4 L462.2 355.2 L463.2 353.7 L464.2 352 L465.2 350.1 L466.2 347.9 L467.2 345.5 L468.2 342.9 L469.2 340.1 L470.2 337.1 L471.2 334.1 L472.2 331 L473.2 328 L474.2 325 L475.2 322.2 L476.2 319.7 L477.2 317.5 L478.2 315.7 L479.2 314.4 L480.2 313.5 L481.2 313.2 L482.2 313.4 L483.2 314.2 L484.2 315.4 L485.2 317.1 L486.2 319.2 L487.2 321.7 L488.2 324.4 L489.2 327.3 L490.2 330.4 L491.2 333.5 L492.2 336.5 L493.2 339.5 L494.2 342.3 L495.2 345 L496.2 347.5 L497.2 349.7 L498.2 351.7 L499.2 353.4 L500.2 354.9 L501.2 356.2 L502.2 357.3 L503.2 358.2 L504.2 359 L505.2 359.6 L506.2 360 L507.2 360.4 L508.2 360.7 L509.2 361 L510.2 361.1 L511.2 361.3 L512.2 361.4 L513.2 361.4 L514.2 361.5 L515.2 361.5 L516.2 361.5 L517.2 361.6 L518.2 361.6 L519.2 361.6 L520.2 361.6 L521.2 361.6 L522.2 361.6 L523.2 361.6 L524.2 361.6 L525.2 361.6 L526.2 361.6 L527.2 361.6 L528.2 361.6 L529.2 361.6 L530.2 361.6 L531.2 361.6 L532.2 361.6 L533.2 361.6 L534.2 361.6 L535.2 361.6 L536.2 361.6 L537.2 361.6" fill="none" stroke="#22e6f0" stroke-width="1.5"/>
<path d="M319.2 361.6 L320.2 361.6 L321.2 361.6 L322.2 361.6 L323.2 361.6 L324.2 361.6 L325.2 361.6 L326.2 361.6 L327.2 361.6 L328.2 361.6 L329.2 361.6 L330.2 361.6 L331.2 361.6 L332.2 361.6 L333.2 361.6 L334.2 361.6 L335.2 361.6 L336.2 361.6 L337.2 361.6 L338.2 361.6 L339.2 361.6 L340.2 361.6 L341.2 361.6 L342.2 361.6 L343.2 361.6 L344.2 361.6 L345.2 361.6 L346.2 361.6 L347.2 361.6 L348.2 361.6 L349.2 361.6 L350.2 361.6 L351.2 361.6 L352.2 361.6 L353.2 361.6 L354.2 361.6 L355.2 361.6 L356.2 361.6 L357.2 361.6 L358.2 361.6 L359.2 361.6 L360.2 361.6 L361.2 361.6 L362.2 361.6 L363.2 361.6 L364.2 361.6 L365.2 361.6 L366.2 361.6 L367.2 361.6 L368.2 361.6 L369.2 361.6 L370.2 361.6 L371.2 361.6 L372.2 361.6 L373.2 361.6 L374.2 361.6 L375.2 361.6 L376.2 361.6 L377.2 361.6 L378.2 361.6 L379.2 361.6 L380.2 361.6 L381.2 361.6 L382.2 361.6 L383.2 361.6 L384.2 361.6 L385.2 361.6 L386.2 361.6 L387.2 361.6 L388.2 361.6 L389.2 361.6 L390.2 361.6 L391.2 361.6 L392.2 361.6 L393.2 361.6 L394.2 361.6 L395.2 361.6 L396.2 361.6 L397.2 361.6 L398.2 361.6 L399.2 361.6 L400.2 361.6 L401.2 361.6 L402.2 361.6 L403.2 361.6 L404.2 361.6 L405.2 361.6 L406.2 361.6 L407.2 361.6 L408.2 361.6 L409.2 361.6 L410.2 361.6 L411.2 361.6 L412.2 361.6 L413.2 361.6 L414.2 361.6 L415.2 361.6 L416.2 361.6 L417.2 361.6 L418.2 361.6 L419.2 361.6 L420.2 361.6 L421.2 361.6 L422.2 361.6 L423.2 361.6 L424.2 361.6 L425.2 361.6 L426.2 361.6 L427.2 361.6 L428.2 361.6 L429.2 361.6 L430.2 361.6 L431.2 361.6 L432.2 361.6 L433.2 361.6 L434.2 361.6 L435.2 361.6 L436.2 361.6 L437.2 361.6 L438.2 361.6 L439.2 361.6 L440.2 361.6 L441.2 361.6 L442.2 361.6 L443.2 361.6 L444.2 361.6 L445.2 361.6 L446.2 361.6 L447.2 361.6 L448.2 361.6 L449.2 361.6 L450.2 361.6 L451.2 361.6 L452.2 361.6 L453.2 361.6 L454.2 361.6 L455.2 361.6 L456.2 361.6 L457.2 361.6 L458.2 361.6 L459.2 361.6 L460.2 361.6 L461.2 361.6 L462.2 361.6 L463.2 361.6 L464.2 361.6 L465.2 361.6 L466.2 361.6 L467.2 361.6 L468.2 361.6 L469.2 361.6 L470.2 361.6 L471.2 361.6 L472.2 361.6 L473.2 361.6 L474.2 361.6 L475.2 361.6 L476.2 361.6 L477.2 361.6 L478.2 361.6 L479.2 361.6 L480.2 361.6 L481.2 361.6 L482.2 361.5 L483.2 361.5 L484.2 361.4 L485.2 361.2 L486.2 360.9 L487.2 360.6 L488.2 360.1 L489.2 359.3 L490.2 358.4 L491.2 357.1 L492.2 355.5 L493.2 353.5 L494.2 351.3 L495.2 348.7 L496.2 346 L497.2 343.3 L498.2 340.6 L499.2 338.2 L500.2 336.2 L501.2 334.8 L502.2 334.2 L503.2 334.2 L504.2 335.1 L505.2 336.6 L506.2 338.6 L507.2 341.1 L508.2 343.8 L509.2 346.6 L510.2 349.3 L511.2 351.8 L512.2 354 L513.2 355.8 L514.2 357.4 L515.2 358.6 L516.2 359.5 L517.2 360.2 L518.2 360.7 L519.2 361 L520.2 361.2 L521.2 361.4 L522.2 361.5 L523.2 361.5 L524.2 361.6 L525.2 361.6 L526.2 361.6 L527.2 361.6 L528.2 361.6 L529.2 361.6 L530.2 361.6 L531.2 361.6 L532.2 361.6 L533.2 361.6 L534.2 361.6 L535.2 361.6 L536.2 361.6 L537.2 361.6" fill="none" stroke="#3a5adf" stroke-width="1.3"/>
<path d="M319.2 361.6 L320.2 361.6 L321.2 361.6 L322.2 361.6 L323.2 361.6 L324.2 361.6 L325.2 361.6 L326.2 361.6 L327.2 361.6 L328.2 361.6 L329.2 361.6 L330.2 361.6 L331.2 361.6 L332.2 361.6 L333.2 361.6 L334.2 361.6 L335.2 361.6 L336.2 361.6 L337.2 361.6 L338.2 361.6 L339.2 361.6 L340.2 361.6 L341.2 361.6 L342.2 361.6 L343.2 361.6 L344.2 361.6 L345.2 361.6 L346.2 361.6 L347.2 361.5 L348.2 361.5 L349.2 361.5 L350.2 361.5 L351.2 361.4 L352.2 361.4 L353.2 361.3 L354.2 361.3 L355.2 361.2 L356.2 361.1 L357.2 361 L358.2 360.9 L359.2 360.8 L360.2 360.6 L361.2 360.5 L362.2 360.3 L363.2 360.1 L364.2 359.8 L365.2 359.6 L366.2 359.3 L367.2 359 L368.2 358.7 L369.2 358.4 L370.2 358 L371.2 357.7 L372.2 357.3 L373.2 357 L374.2 356.7 L375.2 356.3 L376.2 356 L377.2 355.7 L378.2 355.5 L379.2 355.2 L380.2 355 L381.2 354.9 L382.2 354.8 L383.2 354.7 L384.2 354.7 L385.2 354.7 L386.2 354.8 L387.2 354.9 L388.2 355.1 L389.2 355.3 L390.2 355.6 L391.2 355.8 L392.2 356.1 L393.2 356.5 L394.2 356.8 L395.2 357.1 L396.2 357.5 L397.2 357.8 L398.2 358.2 L399.2 358.5 L400.2 358.8 L401.2 359.1 L402.2 359.4 L403.2 359.7 L404.2 359.9 L405.2 360.2 L406.2 360.4 L407.2 360.5 L408.2 360.7 L409.2 360.8 L410.2 361 L411.2 361.1 L412.2 361.2 L413.2 361.2 L414.2 361.3 L415.2 361.4 L416.2 361.4 L417.2 361.4 L418.2 361.5 L419.2 361.5 L420.2 361.5 L421.2 361.5 L422.2 361.6 L423.2 361.6 L424.2 361.6 L425.2 361.6 L426.2 361.6 L427.2 361.6 L428.2 361.6 L429.2 361.6 L430.2 361.6 L431.2 361.6 L432.2 361.6 L433.2 361.6 L434.2 361.6 L435.2 361.6 L436.2 361.6 L437.2 361.6 L438.2 361.6 L439.2 361.6 L440.2 361.6 L441.2 361.6 L442.2 361.6 L443.2 361.6 L444.2 361.6 L445.2 361.6 L446.2 361.6 L447.2 361.6 L448.2 361.6 L449.2 361.6 L450.2 361.6 L451.2 361.6 L452.2 361.6 L453.2 361.6 L454.2 361.6 L455.2 361.6 L456.2 361.6 L457.2 361.6 L458.2 361.6 L459.2 361.6 L460.2 361.6 L461.2 361.6 L462.2 361.6 L463.2 361.6 L464.2 361.6 L465.2 361.6 L466.2 361.6 L467.2 361.6 L468.2 361.6 L469.2 361.6 L470.2 361.6 L471.2 361.6 L472.2 361.6 L473.2 361.6 L474.2 361.6 L475.2 361.6 L476.2 361.6 L477.2 361.6 L478.2 361.6 L479.2 361.6 L480.2 361.6 L481.2 361.6 L482.2 361.6 L483.2 361.6 L484.2 361.6 L485.2 361.6 L486.2 361.6 L487.2 361.6 L488.2 361.6 L489.2 361.6 L490.2 361.6 L491.2 361.6 L492.2 361.6 L493.2 361.6 L494.2 361.6 L495.2 361.6 L496.2 361.6 L497.2 361.6 L498.2 361.6 L499.2 361.6 L500.2 361.6 L501.2 361.6 L502.2 361.6 L503.2 361.6 L504.2 361.6 L505.2 361.6 L506.2 361.6 L507.2 361.6 L508.2 361.6 L509.2 361.6 L510.2 361.6 L511.2 361.6 L512.2 361.6 L513.2 361.6 L514.2 361.6 L515.2 361.6 L516.2 361.6 L517.2 361.6 L518.2 361.6 L519.2 361.6 L520.2 361.6 L521.2 361.6 L522.2 361.6 L523.2 361.6 L524.2 361.6 L525.2 361.6 L526.2 361.6 L527.2 361.6 L528.2 361.6 L529.2 361.6 L530.2 361.6 L531.2 361.6 L532.2 361.6 L533.2 361.6 L534.2 361.6 L535.2 361.6 L536.2 361.6 L537.2 361.6" fill="none" stroke="#33dd33" stroke-width="1.5"/>
<path d="M319.2 361.6 H538.1" stroke="#33dd33" stroke-width="1.6"/>
<path d="M319.2 361.6 L319.8 361.6 L320.5 361.6 L321.3 361.6 L322.2 361.6 L323.1 361.6 L324.2 361.6 L325.3 361.6 L326.4 361.6 L327.6 361.5 L328.8 361.5 L330.1 361.5 L331.3 361.5 L332.5 361.5 L333.8 361.5 L334.9 361.5 L336.1 361.5 L337.2 361.5 L338.2 361.4 L339.1 361.4 L340 361.4 L341.3 361.4 L342.5 361.3 L343.7 361.3 L344.7 361.3 L345.7 361.3 L346.7 361.2 L347.6 361.2 L348.5 361.1 L349.3 361.1 L350.2 361 L351.1 360.9 L352 360.8 L353.1 360.6 L354.2 360.5 L355.2 360.3 L356.2 360.1 L357.2 359.9 L358.2 359.7 L359.2 359.4 L360.2 359.1 L361.1 358.8 L362 358.5 L363.1 358.1 L364.1 357.6 L365.1 357.1 L366 356.6 L366.9 356 L367.9 355.4 L368.9 354.6 L370 353.8 L370.9 353.1 L371.9 352.3 L372.9 351.4 L373.9 350.5 L374.9 349.6 L375.9 348.6 L376.9 347.6 L378 346.6 L379 345.6 L380 344.5 L381 343.4 L382 342.3 L383 341.2 L384 340 L385 338.8 L386 337.6 L387 336.4 L388 335.1 L389 333.8 L390 332.5 L391 331.2 L392 329.8 L393 328.4 L394 327 L395 325.5 L396 324 L397 322.5 L398 321 L399 319.5 L400 318 L401.1 316.3 L402.3 314.4 L403.4 312.6 L404.6 310.7 L405.7 308.8 L406.8 307 L407.8 305.2 L408.7 303.5 L409.6 302 L411.1 299.1 L412.2 296.7 L413.2 294.3 L414.5 291.5 L415.4 289.5 L416.4 287.4 L417.5 285.2 L418.5 282.9 L419.6 280.5 L420.7 278.2 L421.8 276 L422.8 273.8 L423.9 271.6 L424.9 269.4 L426 267.2 L427 265.1 L428.1 263 L429.1 261 L430.1 259.1 L431.2 257.2 L432.2 255.5 L433.3 253.7 L434.3 252.1 L435.4 250.5 L436.4 249 L437.4 247.6 L438.5 246.2 L439.5 244.9 L440.6 243.7 L441.6 242.5 L442.6 241.5 L443.6 240.6 L444.8 239.7 L445.9 238.9 L447 238.2 L448.1 237.6 L449.2 237.2 L450.2 237 L451.3 236.9 L452.3 237 L453.3 237.4 L454.3 237.9 L455.3 238.5 L456.4 239.3 L457.6 240.3 L458.7 241.4 L459.9 242.7 L461.1 244 L462.3 245.4 L463.4 246.9 L464.6 248.6 L465.7 250.3 L466.9 252 L468 253.8 L469.2 255.6 L470.3 257.4 L471.5 259.4 L472.7 261.5 L473.8 263.4 L474.9 265.4 L476.1 267.5 L477.3 269.6 L478.4 271.6 L479.3 273.5 L480.7 276.6 L481.9 279.5 L483 283 L484 286.5 L485 290.5 L486 294.6 L487 298.5 L488 302.3 L489 306 L490 309.5 L491 312.5 L492 315 L492.9 317 L493.9 318.7 L495 320 L496 320.7 L497 321 L498.1 321.2 L499.1 321.4 L500 321.8 L501.1 322.7 L502 323.8 L503 326 L503.9 328.7 L504.9 332.1 L505.9 335.9 L507 339.5 L508 342.4 L509 345.4 L510 348.4 L511 351.1 L512 353.5 L513 355.9 L513.9 357.8 L514.9 359.3 L516 360.5 L516.8 361 L517.5 361.3 L518.3 361.5 L519.2 361.5 L520.4 361.5 L522 361.6 L522.8 361.6 L523.7 361.7 L524.8 361.7 L525.9 361.7 L527.1 361.7 L528.3 361.7 L529.6 361.7 L530.9 361.7 L532.1 361.7 L533.3 361.6 L534.4 361.6 L535.4 361.6 L536.3 361.6 L537.1 361.6 L537.7 361.6" fill="none" stroke="#1ee61e" stroke-width="1.7"/>
<rect x="319.2" y="219.7" width="218.90000000000003" height="169.5" fill="none" stroke="#000" stroke-width="1.6"/>
<path d="M538.1 389.2 v2.2 M519.9 389.2 v1.4 M501.6 389.2 v2.2 M483.4 389.2 v1.4 M465.1 389.2 v2.2 M446.9 389.2 v1.4 M428.6 389.2 v2.2 M410.4 389.2 v1.4 M392.2 389.2 v2.2 M373.9 389.2 v1.4 M355.7 389.2 v2.2 M337.4 389.2 v1.4 M319.2 389.2 v2.2" stroke="#000" stroke-width="1"/>
<text x="538.1" y="401.3" font-size="12.6" fill="#000" stroke="#000" text-anchor="middle" >630</text>
<text x="501.6" y="401.3" font-size="12.6" fill="#000" stroke="#000" text-anchor="middle" >635</text>
<text x="465.1" y="401.3" font-size="12.6" fill="#000" stroke="#000" text-anchor="middle" >640</text>
<text x="428.6" y="401.3" font-size="12.6" fill="#000" stroke="#000" text-anchor="middle" >645</text>
<text x="392.2" y="401.3" font-size="12.6" fill="#000" stroke="#000" text-anchor="middle" >650</text>
<text x="355.7" y="401.3" font-size="12.6" fill="#000" stroke="#000" text-anchor="middle" >655</text>
<text x="319.2" y="401.3" font-size="12.6" fill="#000" stroke="#000" text-anchor="middle" >660</text>
<text x="359.1" y="418.8" font-size="15" fill="#000" stroke="#000" text-anchor="start" >Binding Energy (eV)</text>
<text x="307.5" y="345.7" font-size="15" fill="#000" stroke="#000" text-anchor="start" transform="rotate(-90 307.5 345.7)">Intensity (a.u.)</text>
<text x="281.3" y="230" font-size="18" fill="#000" stroke="#000" text-anchor="start" >(d)</text>
<text x="328.6" y="235.3" font-size="12" fill="#000" stroke="#000" text-anchor="start" >Mn 2p</text>
<text x="374.6" y="290.3" font-size="10" fill="#000" stroke="#000" text-anchor="start" >Mn 2p<tspan font-size="7.3" dy="2.2">1/2</tspan></text>
<text x="471.5" y="250.5" font-size="10" fill="#000" stroke="#000" text-anchor="start" >Mn 2p<tspan font-size="7.3" dy="2.2">3/2</tspan></text>
<text x="444.8" y="253.7" font-size="10" fill="#ff22ff" stroke="#ff22ff" text-anchor="start" >+3</text>
<text x="421" y="299" font-size="10" fill="#ff7a1a" stroke="#ff7a1a" text-anchor="start" >+2</text>
<text x="476.7" y="311" font-size="10" fill="#22c6e0" stroke="#22c6e0" text-anchor="start" >+2</text>
<text x="363.7" y="347" font-size="10" fill="#33dd33" stroke="#33dd33" text-anchor="start" >+3</text>
</svg></body></html>
